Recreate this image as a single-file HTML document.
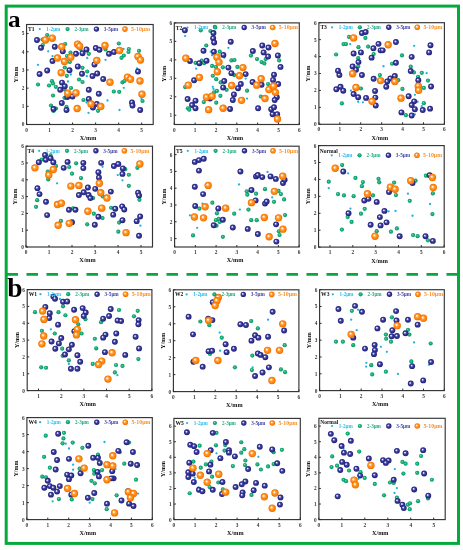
<!DOCTYPE html><html><head><meta charset="utf-8"><style>html,body{margin:0;padding:0;background:#fff;}svg{display:block;filter:blur(0.3px);}text{font-family:"Liberation Serif","DejaVu Serif",serif;}</style></head><body><svg width="463" height="550" viewBox="0 0 463 550"><defs><radialGradient id="gn" cx="0.5" cy="0.5" r="0.5" fx="0.37" fy="0.37"><stop offset="0" stop-color="#ffffff"/><stop offset="0.17" stop-color="#cdd5f0"/><stop offset="0.42" stop-color="#4848aa"/><stop offset="0.72" stop-color="#2e2e8e"/><stop offset="1" stop-color="#1f1f70"/></radialGradient><radialGradient id="go" cx="0.5" cy="0.5" r="0.5" fx="0.37" fy="0.36"><stop offset="0" stop-color="#ffffff"/><stop offset="0.18" stop-color="#ffe6cc"/><stop offset="0.42" stop-color="#ff9c34"/><stop offset="0.72" stop-color="#ff8608"/><stop offset="1" stop-color="#ec6a00"/></radialGradient><radialGradient id="gg" cx="0.5" cy="0.5" r="0.5" fx="0.40" fy="0.38"><stop offset="0" stop-color="#8ee0c0"/><stop offset="0.3" stop-color="#2cb888"/><stop offset="0.7" stop-color="#0aa870"/><stop offset="1" stop-color="#078f5e"/></radialGradient></defs><rect width="463" height="550" fill="#fff"/><rect x="6.2" y="6.1" width="452.3" height="537.3" fill="none" stroke="#05aa3c" stroke-width="3"/><line x1="6.5" y1="274.4" x2="458" y2="274.4" stroke="#05aa3c" stroke-width="2.6" stroke-dasharray="11.5 8.5"/><text x="8" y="27.3" font-size="23.5" font-weight="bold" fill="#000" textLength="12.6" lengthAdjust="spacingAndGlyphs">a</text><text x="7.2" y="296.6" font-size="27.5" font-weight="bold" fill="#000">b</text><clipPath id="cp0"><rect x="26.55" y="24.5" width="126.65" height="100"/></clipPath><g clip-path="url(#cp0)"><circle cx="48.2" cy="51.3" r="1.15" fill="#1db3df"/><circle cx="52.5" cy="56.2" r="1.15" fill="#1db3df"/><circle cx="38" cy="64.8" r="1.15" fill="#1db3df"/><circle cx="68" cy="81.5" r="1.15" fill="#1db3df"/><circle cx="87.2" cy="58" r="1.15" fill="#1db3df"/><circle cx="105.5" cy="59.8" r="1.15" fill="#1db3df"/><circle cx="70.8" cy="74.5" r="1.15" fill="#1db3df"/><circle cx="86.8" cy="76.2" r="1.15" fill="#1db3df"/><circle cx="107.5" cy="100.5" r="1.15" fill="#1db3df"/><circle cx="88.5" cy="112.8" r="1.15" fill="#1db3df"/><circle cx="86.5" cy="102.5" r="1.15" fill="#1db3df"/><circle cx="123.5" cy="49" r="1.15" fill="#1db3df"/><circle cx="137" cy="68.5" r="1.15" fill="#1db3df"/><circle cx="123.8" cy="87.8" r="1.15" fill="#1db3df"/><circle cx="119.5" cy="110" r="1.15" fill="#1db3df"/><circle cx="141.5" cy="98.8" r="1.15" fill="#1db3df"/><circle cx="47.2" cy="35" r="2.1" fill="url(#gg)"/><circle cx="42.5" cy="39.5" r="2.1" fill="url(#gg)"/><circle cx="42.8" cy="45" r="2.1" fill="url(#gg)"/><circle cx="65.2" cy="44" r="2.1" fill="url(#gg)"/><circle cx="67" cy="56" r="2.1" fill="url(#gg)"/><circle cx="64.8" cy="67.5" r="2.1" fill="url(#gg)"/><circle cx="66.8" cy="75.8" r="2.1" fill="url(#gg)"/><circle cx="52" cy="81.2" r="2.1" fill="url(#gg)"/><circle cx="38" cy="84.5" r="2.1" fill="url(#gg)"/><circle cx="49" cy="85.5" r="2.1" fill="url(#gg)"/><circle cx="53" cy="83.5" r="2.1" fill="url(#gg)"/><circle cx="55.8" cy="86.8" r="2.1" fill="url(#gg)"/><circle cx="53" cy="95.5" r="2.1" fill="url(#gg)"/><circle cx="64.5" cy="89.5" r="2.1" fill="url(#gg)"/><circle cx="64.5" cy="97.8" r="2.1" fill="url(#gg)"/><circle cx="51" cy="105.5" r="2.1" fill="url(#gg)"/><circle cx="56" cy="108.5" r="2.1" fill="url(#gg)"/><circle cx="53.5" cy="111" r="2.1" fill="url(#gg)"/><circle cx="66.5" cy="106.8" r="2.1" fill="url(#gg)"/><circle cx="80.5" cy="49" r="2.1" fill="url(#gg)"/><circle cx="88.8" cy="53.8" r="2.1" fill="url(#gg)"/><circle cx="70.5" cy="52.5" r="2.1" fill="url(#gg)"/><circle cx="69.8" cy="62" r="2.1" fill="url(#gg)"/><circle cx="82.5" cy="67.8" r="2.1" fill="url(#gg)"/><circle cx="87.2" cy="71.5" r="2.1" fill="url(#gg)"/><circle cx="105.5" cy="49.5" r="2.1" fill="url(#gg)"/><circle cx="79" cy="79.5" r="2.1" fill="url(#gg)"/><circle cx="82.5" cy="82" r="2.1" fill="url(#gg)"/><circle cx="71" cy="88" r="2.1" fill="url(#gg)"/><circle cx="83.5" cy="100" r="2.1" fill="url(#gg)"/><circle cx="98" cy="110.8" r="2.1" fill="url(#gg)"/><circle cx="118.8" cy="43.5" r="2.1" fill="url(#gg)"/><circle cx="128.8" cy="49" r="2.1" fill="url(#gg)"/><circle cx="128.5" cy="52" r="2.1" fill="url(#gg)"/><circle cx="139" cy="50.8" r="2.1" fill="url(#gg)"/><circle cx="123.8" cy="55.5" r="2.1" fill="url(#gg)"/><circle cx="121.5" cy="57.8" r="2.1" fill="url(#gg)"/><circle cx="122.5" cy="82.3" r="2.1" fill="url(#gg)"/><circle cx="124.5" cy="81" r="2.1" fill="url(#gg)"/><circle cx="113.8" cy="91.5" r="2.1" fill="url(#gg)"/><circle cx="119.2" cy="91.8" r="2.1" fill="url(#gg)"/><circle cx="142.5" cy="101" r="2.1" fill="url(#gg)"/><circle cx="37" cy="40" r="2.95" fill="url(#gn)"/><circle cx="41" cy="47.8" r="2.95" fill="url(#gn)"/><circle cx="54.8" cy="46.8" r="2.95" fill="url(#gn)"/><circle cx="62.8" cy="51.3" r="2.95" fill="url(#gn)"/><circle cx="52.5" cy="61" r="2.95" fill="url(#gn)"/><circle cx="47.2" cy="70.5" r="2.95" fill="url(#gn)"/><circle cx="39.6" cy="74" r="2.95" fill="url(#gn)"/><circle cx="62" cy="82.6" r="2.95" fill="url(#gn)"/><circle cx="69.5" cy="70.2" r="2.95" fill="url(#gn)"/><circle cx="64.8" cy="86.2" r="2.95" fill="url(#gn)"/><circle cx="60.2" cy="89.8" r="2.95" fill="url(#gn)"/><circle cx="67.3" cy="97" r="2.95" fill="url(#gn)"/><circle cx="72.5" cy="96.5" r="2.95" fill="url(#gn)"/><circle cx="61.8" cy="103" r="2.95" fill="url(#gn)"/><circle cx="53.5" cy="109" r="2.95" fill="url(#gn)"/><circle cx="66.5" cy="110" r="2.95" fill="url(#gn)"/><circle cx="86.5" cy="49.5" r="2.95" fill="url(#gn)"/><circle cx="82.5" cy="53.2" r="2.95" fill="url(#gn)"/><circle cx="76" cy="53.8" r="2.95" fill="url(#gn)"/><circle cx="95.8" cy="48" r="2.95" fill="url(#gn)"/><circle cx="99.5" cy="49.8" r="2.95" fill="url(#gn)"/><circle cx="109" cy="53.8" r="2.95" fill="url(#gn)"/><circle cx="114" cy="52" r="2.95" fill="url(#gn)"/><circle cx="94.5" cy="64.5" r="2.95" fill="url(#gn)"/><circle cx="77.8" cy="66.5" r="2.95" fill="url(#gn)"/><circle cx="82" cy="73.8" r="2.95" fill="url(#gn)"/><circle cx="92.5" cy="76" r="2.95" fill="url(#gn)"/><circle cx="97.2" cy="73.5" r="2.95" fill="url(#gn)"/><circle cx="103.2" cy="79" r="2.95" fill="url(#gn)"/><circle cx="88.8" cy="89.8" r="2.95" fill="url(#gn)"/><circle cx="98.8" cy="93.8" r="2.95" fill="url(#gn)"/><circle cx="88.8" cy="99" r="2.95" fill="url(#gn)"/><circle cx="93" cy="107.5" r="2.95" fill="url(#gn)"/><circle cx="96.8" cy="104" r="2.95" fill="url(#gn)"/><circle cx="138" cy="71.5" r="2.95" fill="url(#gn)"/><circle cx="132" cy="102.5" r="2.95" fill="url(#gn)"/><circle cx="132.5" cy="105.5" r="2.95" fill="url(#gn)"/><circle cx="140.2" cy="110" r="2.95" fill="url(#gn)"/><circle cx="45.5" cy="40" r="3.7" fill="url(#go)"/><circle cx="52.3" cy="38.2" r="3.7" fill="url(#go)"/><circle cx="61.8" cy="46.8" r="3.7" fill="url(#go)"/><circle cx="57.5" cy="58" r="3.7" fill="url(#go)"/><circle cx="64.5" cy="61.5" r="3.7" fill="url(#go)"/><circle cx="70.8" cy="57.3" r="3.7" fill="url(#go)"/><circle cx="61.2" cy="72.8" r="3.7" fill="url(#go)"/><circle cx="67.8" cy="93.3" r="3.7" fill="url(#go)"/><circle cx="76" cy="93" r="3.7" fill="url(#go)"/><circle cx="77.2" cy="108.5" r="3.7" fill="url(#go)"/><circle cx="91" cy="104" r="3.7" fill="url(#go)"/><circle cx="100.8" cy="106.5" r="3.7" fill="url(#go)"/><circle cx="77.6" cy="44.2" r="3.7" fill="url(#go)"/><circle cx="79.6" cy="46.2" r="3.7" fill="url(#go)"/><circle cx="105" cy="45.5" r="3.7" fill="url(#go)"/><circle cx="96.8" cy="60.5" r="3.7" fill="url(#go)"/><circle cx="110" cy="82.3" r="3.7" fill="url(#go)"/><circle cx="119.5" cy="50.5" r="3.7" fill="url(#go)"/><circle cx="138" cy="56.5" r="3.7" fill="url(#go)"/><circle cx="140.5" cy="60" r="3.7" fill="url(#go)"/><circle cx="127.5" cy="77.2" r="3.7" fill="url(#go)"/><circle cx="130.5" cy="79.2" r="3.7" fill="url(#go)"/><circle cx="140" cy="81" r="3.7" fill="url(#go)"/><circle cx="142" cy="94.2" r="3.7" fill="url(#go)"/></g><rect x="26.55" y="24.5" width="126.65" height="100" fill="none" stroke="#333" stroke-width="1.15"/><text x="26.55" y="131.6" font-size="5.3" font-weight="bold" text-anchor="middle" fill="#333">0</text><text x="49.58" y="131.6" font-size="5.3" font-weight="bold" text-anchor="middle" fill="#333">1</text><text x="72.6" y="131.6" font-size="5.3" font-weight="bold" text-anchor="middle" fill="#333">2</text><text x="95.63" y="131.6" font-size="5.3" font-weight="bold" text-anchor="middle" fill="#333">3</text><text x="118.66" y="131.6" font-size="5.3" font-weight="bold" text-anchor="middle" fill="#333">4</text><text x="141.69" y="131.6" font-size="5.3" font-weight="bold" text-anchor="middle" fill="#333">5</text><text x="24.35" y="126.4" font-size="5.3" font-weight="bold" text-anchor="end" fill="#333">0</text><text x="24.35" y="108.22" font-size="5.3" font-weight="bold" text-anchor="end" fill="#333">1</text><text x="24.35" y="90.04" font-size="5.3" font-weight="bold" text-anchor="end" fill="#333">2</text><text x="24.35" y="71.85" font-size="5.3" font-weight="bold" text-anchor="end" fill="#333">3</text><text x="24.35" y="53.67" font-size="5.3" font-weight="bold" text-anchor="end" fill="#333">4</text><text x="24.35" y="35.49" font-size="5.3" font-weight="bold" text-anchor="end" fill="#333">5</text><path d="M26.55 124.5v-2 M49.58 124.5v-2 M72.6 124.5v-2 M95.63 124.5v-2 M118.66 124.5v-2 M141.69 124.5v-2 M26.55 124.5h2 M26.55 106.32h2 M26.55 88.14h2 M26.55 69.95h2 M26.55 51.77h2 M26.55 33.59h2" stroke="#2a2a2a" stroke-width="1" fill="none"/><text x="88.08" y="139.9" font-size="7" font-weight="bold" text-anchor="middle" fill="#111" textLength="16.5" lengthAdjust="spacingAndGlyphs">X/mm</text><text transform="translate(17.95 74.5) rotate(-90)" font-size="7" font-weight="bold" text-anchor="middle" fill="#111" textLength="16" lengthAdjust="spacingAndGlyphs">Y/mm</text><text x="28.05" y="31.1" font-size="5.6" font-weight="bold" fill="#111">T1</text><circle cx="39.75" cy="29.1" r="1.1" fill="#1db3df"/><text x="46.35" y="30.9" font-size="5.2" font-weight="bold" fill="#2cbbea" textLength="14" lengthAdjust="spacingAndGlyphs">1-2μm</text><circle cx="67.55" cy="29.1" r="2.1" fill="url(#gg)"/><text x="74.55" y="30.9" font-size="5.2" font-weight="bold" fill="#20aa80" textLength="14" lengthAdjust="spacingAndGlyphs">2-3μm</text><circle cx="96.45" cy="29.1" r="2.7" fill="url(#gn)"/><text x="103.85" y="30.9" font-size="5.2" font-weight="bold" fill="#4444a2" textLength="14.2" lengthAdjust="spacingAndGlyphs">3-5μm</text><circle cx="124.95" cy="29.1" r="2.8" fill="url(#go)"/><text x="131.05" y="30.9" font-size="5.2" font-weight="bold" fill="#f8902a" textLength="19" lengthAdjust="spacingAndGlyphs">5-10μm</text><clipPath id="cp1"><rect x="174.3" y="22.9" width="125" height="101.6"/></clipPath><g clip-path="url(#cp1)"><circle cx="185.13" cy="36.1" r="1.15" fill="#1db3df"/><circle cx="228.4" cy="47.85" r="1.15" fill="#1db3df"/><circle cx="210.7" cy="51.72" r="1.15" fill="#1db3df"/><circle cx="212.09" cy="55.17" r="1.15" fill="#1db3df"/><circle cx="224.25" cy="57.66" r="1.15" fill="#1db3df"/><circle cx="196.19" cy="68.72" r="1.15" fill="#1db3df"/><circle cx="212.78" cy="86.82" r="1.15" fill="#1db3df"/><circle cx="213.47" cy="88.9" r="1.15" fill="#1db3df"/><circle cx="245.68" cy="78.53" r="1.15" fill="#1db3df"/><circle cx="247.06" cy="98.57" r="1.15" fill="#1db3df"/><circle cx="200.75" cy="30.29" r="2.1" fill="url(#gg)"/><circle cx="214.85" cy="26.84" r="2.1" fill="url(#gg)"/><circle cx="210.43" cy="30.98" r="2.1" fill="url(#gg)"/><circle cx="206.28" cy="45.5" r="2.1" fill="url(#gg)"/><circle cx="219.69" cy="51.72" r="2.1" fill="url(#gg)"/><circle cx="195.5" cy="62.78" r="2.1" fill="url(#gg)"/><circle cx="201.72" cy="60.7" r="2.1" fill="url(#gg)"/><circle cx="204.07" cy="63.19" r="2.1" fill="url(#gg)"/><circle cx="212.09" cy="65.96" r="2.1" fill="url(#gg)"/><circle cx="215.96" cy="66.92" r="2.1" fill="url(#gg)"/><circle cx="222.87" cy="67.34" r="2.1" fill="url(#gg)"/><circle cx="231.44" cy="60.43" r="2.1" fill="url(#gg)"/><circle cx="234.48" cy="60.01" r="2.1" fill="url(#gg)"/><circle cx="212.78" cy="75.76" r="2.1" fill="url(#gg)"/><circle cx="216.23" cy="79.22" r="2.1" fill="url(#gg)"/><circle cx="220.66" cy="82.4" r="2.1" fill="url(#gg)"/><circle cx="226.6" cy="89.86" r="2.1" fill="url(#gg)"/><circle cx="216.92" cy="90.97" r="2.1" fill="url(#gg)"/><circle cx="214.16" cy="92.35" r="2.1" fill="url(#gg)"/><circle cx="220.38" cy="95.81" r="2.1" fill="url(#gg)"/><circle cx="185.13" cy="87.1" r="2.1" fill="url(#gg)"/><circle cx="203.79" cy="102.03" r="2.1" fill="url(#gg)"/><circle cx="216.23" cy="102.72" r="2.1" fill="url(#gg)"/><circle cx="187.9" cy="108.25" r="2.1" fill="url(#gg)"/><circle cx="189.28" cy="109.63" r="2.1" fill="url(#gg)"/><circle cx="234.2" cy="75.07" r="2.1" fill="url(#gg)"/><circle cx="250.93" cy="55.59" r="2.1" fill="url(#gg)"/><circle cx="257.01" cy="59.05" r="2.1" fill="url(#gg)"/><circle cx="261.57" cy="62.09" r="2.1" fill="url(#gg)"/><circle cx="264.34" cy="63.47" r="2.1" fill="url(#gg)"/><circle cx="265.72" cy="59.05" r="2.1" fill="url(#gg)"/><circle cx="279.13" cy="60.43" r="2.1" fill="url(#gg)"/><circle cx="237.38" cy="66.92" r="2.1" fill="url(#gg)"/><circle cx="268.07" cy="84.06" r="2.1" fill="url(#gg)"/><circle cx="247.06" cy="90.69" r="2.1" fill="url(#gg)"/><circle cx="260.88" cy="96.5" r="2.1" fill="url(#gg)"/><circle cx="184.86" cy="30.29" r="2.95" fill="url(#gn)"/><circle cx="213.47" cy="33.06" r="2.95" fill="url(#gn)"/><circle cx="213.19" cy="38.31" r="2.95" fill="url(#gn)"/><circle cx="214.16" cy="42.46" r="2.95" fill="url(#gn)"/><circle cx="230.75" cy="41.77" r="2.95" fill="url(#gn)"/><circle cx="203.52" cy="50.75" r="2.95" fill="url(#gn)"/><circle cx="213.88" cy="51.72" r="2.95" fill="url(#gn)"/><circle cx="223.42" cy="54.9" r="2.95" fill="url(#gn)"/><circle cx="189.97" cy="60.98" r="2.95" fill="url(#gn)"/><circle cx="199.37" cy="63.19" r="2.95" fill="url(#gn)"/><circle cx="206.56" cy="60.7" r="2.95" fill="url(#gn)"/><circle cx="228.4" cy="67.62" r="2.95" fill="url(#gn)"/><circle cx="231.44" cy="73.14" r="2.95" fill="url(#gn)"/><circle cx="194.12" cy="80.19" r="2.95" fill="url(#gn)"/><circle cx="224.25" cy="81.02" r="2.95" fill="url(#gn)"/><circle cx="223.14" cy="87.51" r="2.95" fill="url(#gn)"/><circle cx="233.93" cy="94.43" r="2.95" fill="url(#gn)"/><circle cx="232.82" cy="99.95" r="2.95" fill="url(#gn)"/><circle cx="187.62" cy="98.99" r="2.95" fill="url(#gn)"/><circle cx="195.5" cy="100.65" r="2.95" fill="url(#gn)"/><circle cx="192.04" cy="105.07" r="2.95" fill="url(#gn)"/><circle cx="195.5" cy="108.25" r="2.95" fill="url(#gn)"/><circle cx="230.06" cy="108.94" r="2.95" fill="url(#gn)"/><circle cx="210.01" cy="98.57" r="2.95" fill="url(#gn)"/><circle cx="262.26" cy="45.5" r="2.95" fill="url(#gn)"/><circle cx="268.48" cy="47.57" r="2.95" fill="url(#gn)"/><circle cx="252.86" cy="51.03" r="2.95" fill="url(#gn)"/><circle cx="263.65" cy="52.41" r="2.95" fill="url(#gn)"/><circle cx="268.07" cy="56.56" r="2.95" fill="url(#gn)"/><circle cx="277.88" cy="55.45" r="2.95" fill="url(#gn)"/><circle cx="280.51" cy="66.92" r="2.95" fill="url(#gn)"/><circle cx="245.68" cy="74.11" r="2.95" fill="url(#gn)"/><circle cx="274.01" cy="74.66" r="2.95" fill="url(#gn)"/><circle cx="273.05" cy="79.91" r="2.95" fill="url(#gn)"/><circle cx="278.16" cy="84.06" r="2.95" fill="url(#gn)"/><circle cx="252.59" cy="81.98" r="2.95" fill="url(#gn)"/><circle cx="261.57" cy="84.75" r="2.95" fill="url(#gn)"/><circle cx="240.84" cy="84.06" r="2.95" fill="url(#gn)"/><circle cx="238.07" cy="88.21" r="2.95" fill="url(#gn)"/><circle cx="276.78" cy="97.19" r="2.95" fill="url(#gn)"/><circle cx="274.7" cy="99.95" r="2.95" fill="url(#gn)"/><circle cx="258.12" cy="108.25" r="2.95" fill="url(#gn)"/><circle cx="271.25" cy="109.22" r="2.95" fill="url(#gn)"/><circle cx="274.01" cy="107.28" r="2.95" fill="url(#gn)"/><circle cx="272.63" cy="114.19" r="2.95" fill="url(#gn)"/><circle cx="277.19" cy="114.19" r="2.95" fill="url(#gn)"/><circle cx="185.82" cy="58.22" r="3.7" fill="url(#go)"/><circle cx="216.92" cy="57.25" r="3.7" fill="url(#go)"/><circle cx="219" cy="62.09" r="3.7" fill="url(#go)"/><circle cx="217.34" cy="71.76" r="3.7" fill="url(#go)"/><circle cx="199.37" cy="77.42" r="3.7" fill="url(#go)"/><circle cx="188.31" cy="85.16" r="3.7" fill="url(#go)"/><circle cx="231.71" cy="85.44" r="3.7" fill="url(#go)"/><circle cx="206.56" cy="97.19" r="3.7" fill="url(#go)"/><circle cx="212.09" cy="96.22" r="3.7" fill="url(#go)"/><circle cx="208.63" cy="109.63" r="3.7" fill="url(#go)"/><circle cx="223.14" cy="108.25" r="3.7" fill="url(#go)"/><circle cx="274.98" cy="43.43" r="3.7" fill="url(#go)"/><circle cx="242.91" cy="67.62" r="3.7" fill="url(#go)"/><circle cx="239.46" cy="75.76" r="3.7" fill="url(#go)"/><circle cx="261.16" cy="78.81" r="3.7" fill="url(#go)"/><circle cx="256.73" cy="85.16" r="3.7" fill="url(#go)"/><circle cx="268.9" cy="89.59" r="3.7" fill="url(#go)"/><circle cx="273.6" cy="86.13" r="3.7" fill="url(#go)"/><circle cx="275.4" cy="92.35" r="3.7" fill="url(#go)"/><circle cx="265.03" cy="98.57" r="3.7" fill="url(#go)"/><circle cx="241.53" cy="100.37" r="3.7" fill="url(#go)"/><circle cx="277.47" cy="119.03" r="3.7" fill="url(#go)"/></g><rect x="174.3" y="22.9" width="125" height="101.6" fill="none" stroke="#333" stroke-width="1.15"/><text x="174.3" y="131.6" font-size="5.3" font-weight="bold" text-anchor="middle" fill="#333">0</text><text x="195.13" y="131.6" font-size="5.3" font-weight="bold" text-anchor="middle" fill="#333">1</text><text x="215.97" y="131.6" font-size="5.3" font-weight="bold" text-anchor="middle" fill="#333">2</text><text x="236.8" y="131.6" font-size="5.3" font-weight="bold" text-anchor="middle" fill="#333">3</text><text x="257.63" y="131.6" font-size="5.3" font-weight="bold" text-anchor="middle" fill="#333">4</text><text x="278.47" y="131.6" font-size="5.3" font-weight="bold" text-anchor="middle" fill="#333">5</text><text x="299.3" y="131.6" font-size="5.3" font-weight="bold" text-anchor="middle" fill="#333">6</text><text x="172.1" y="117.16" font-size="5.3" font-weight="bold" text-anchor="end" fill="#333">1</text><text x="172.1" y="98.69" font-size="5.3" font-weight="bold" text-anchor="end" fill="#333">2</text><text x="172.1" y="80.22" font-size="5.3" font-weight="bold" text-anchor="end" fill="#333">3</text><text x="172.1" y="61.75" font-size="5.3" font-weight="bold" text-anchor="end" fill="#333">4</text><text x="172.1" y="43.27" font-size="5.3" font-weight="bold" text-anchor="end" fill="#333">5</text><text x="172.1" y="24.8" font-size="5.3" font-weight="bold" text-anchor="end" fill="#333">6</text><path d="M174.3 124.5v-2 M195.13 124.5v-2 M215.97 124.5v-2 M236.8 124.5v-2 M257.63 124.5v-2 M278.47 124.5v-2 M299.3 124.5v-2 M174.3 115.26h2 M174.3 96.79h2 M174.3 78.32h2 M174.3 59.85h2 M174.3 41.37h2 M174.3 22.9h2" stroke="#2a2a2a" stroke-width="1" fill="none"/><text x="235" y="139.9" font-size="7" font-weight="bold" text-anchor="middle" fill="#111" textLength="16.5" lengthAdjust="spacingAndGlyphs">X/mm</text><text transform="translate(165.7 73.7) rotate(-90)" font-size="7" font-weight="bold" text-anchor="middle" fill="#111" textLength="16" lengthAdjust="spacingAndGlyphs">Y/mm</text><text x="175.8" y="29.5" font-size="5.6" font-weight="bold" fill="#111">T2</text><circle cx="187.5" cy="27.5" r="1.1" fill="#1db3df"/><text x="194.1" y="29.3" font-size="5.2" font-weight="bold" fill="#2cbbea" textLength="14" lengthAdjust="spacingAndGlyphs">1-2μm</text><circle cx="215.3" cy="27.5" r="2.1" fill="url(#gg)"/><text x="222.3" y="29.3" font-size="5.2" font-weight="bold" fill="#20aa80" textLength="14" lengthAdjust="spacingAndGlyphs">2-3μm</text><circle cx="244.2" cy="27.5" r="2.7" fill="url(#gn)"/><text x="251.6" y="29.3" font-size="5.2" font-weight="bold" fill="#4444a2" textLength="14.2" lengthAdjust="spacingAndGlyphs">3-5μm</text><circle cx="272.7" cy="27.5" r="2.8" fill="url(#go)"/><text x="278.8" y="29.3" font-size="5.2" font-weight="bold" fill="#f8902a" textLength="19" lengthAdjust="spacingAndGlyphs">5-10μm</text><clipPath id="cp2"><rect x="318.9" y="22.7" width="125.5" height="101.6"/></clipPath><g clip-path="url(#cp2)"><circle cx="350.17" cy="44.12" r="1.15" fill="#1db3df"/><circle cx="350.87" cy="90.69" r="1.15" fill="#1db3df"/><circle cx="358.19" cy="101.75" r="1.15" fill="#1db3df"/><circle cx="362.89" cy="102.3" r="1.15" fill="#1db3df"/><circle cx="414.17" cy="45.78" r="1.15" fill="#1db3df"/><circle cx="383.49" cy="66.23" r="1.15" fill="#1db3df"/><circle cx="426.62" cy="73.14" r="1.15" fill="#1db3df"/><circle cx="414.87" cy="94.84" r="1.15" fill="#1db3df"/><circle cx="417.63" cy="101.75" r="1.15" fill="#1db3df"/><circle cx="421.78" cy="106.17" r="1.15" fill="#1db3df"/><circle cx="414.87" cy="114.47" r="1.15" fill="#1db3df"/><circle cx="349.07" cy="36.93" r="2.1" fill="url(#gg)"/><circle cx="365.38" cy="37.9" r="2.1" fill="url(#gg)"/><circle cx="343.54" cy="44.12" r="2.1" fill="url(#gg)"/><circle cx="346.03" cy="44.12" r="2.1" fill="url(#gg)"/><circle cx="358.47" cy="47.16" r="2.1" fill="url(#gg)"/><circle cx="368.14" cy="46.6" r="2.1" fill="url(#gg)"/><circle cx="336.08" cy="54.48" r="2.1" fill="url(#gg)"/><circle cx="373.67" cy="54.07" r="2.1" fill="url(#gg)"/><circle cx="358.19" cy="58.22" r="2.1" fill="url(#gg)"/><circle cx="358.19" cy="66.51" r="2.1" fill="url(#gg)"/><circle cx="360.96" cy="88.48" r="2.1" fill="url(#gg)"/><circle cx="341.88" cy="103.41" r="2.1" fill="url(#gg)"/><circle cx="379.89" cy="75.07" r="2.1" fill="url(#gg)"/><circle cx="402.01" cy="55.45" r="2.1" fill="url(#gg)"/><circle cx="392.06" cy="63.75" r="2.1" fill="url(#gg)"/><circle cx="410.72" cy="66.51" r="2.1" fill="url(#gg)"/><circle cx="413.9" cy="72.45" r="2.1" fill="url(#gg)"/><circle cx="421.78" cy="72.87" r="2.1" fill="url(#gg)"/><circle cx="418.05" cy="76.87" r="2.1" fill="url(#gg)"/><circle cx="428" cy="80.6" r="2.1" fill="url(#gg)"/><circle cx="423.85" cy="87.93" r="2.1" fill="url(#gg)"/><circle cx="402.43" cy="88.9" r="2.1" fill="url(#gg)"/><circle cx="423.85" cy="103.13" r="2.1" fill="url(#gg)"/><circle cx="405.88" cy="115.16" r="2.1" fill="url(#gg)"/><circle cx="398.28" cy="80.19" r="2.1" fill="url(#gg)"/><circle cx="361.92" cy="33.06" r="2.95" fill="url(#gn)"/><circle cx="365.66" cy="31.95" r="2.95" fill="url(#gn)"/><circle cx="378.51" cy="43.84" r="2.95" fill="url(#gn)"/><circle cx="373.4" cy="48.26" r="2.95" fill="url(#gn)"/><circle cx="353.63" cy="53.52" r="2.95" fill="url(#gn)"/><circle cx="360.96" cy="52.41" r="2.95" fill="url(#gn)"/><circle cx="371.6" cy="57.66" r="2.95" fill="url(#gn)"/><circle cx="358.47" cy="62.09" r="2.95" fill="url(#gn)"/><circle cx="352.66" cy="66.51" r="2.95" fill="url(#gn)"/><circle cx="355.98" cy="69.69" r="2.95" fill="url(#gn)"/><circle cx="380.59" cy="50.34" r="2.95" fill="url(#gn)"/><circle cx="339.39" cy="75.07" r="2.95" fill="url(#gn)"/><circle cx="361.92" cy="75.07" r="2.95" fill="url(#gn)"/><circle cx="373.67" cy="78.81" r="2.95" fill="url(#gn)"/><circle cx="336.35" cy="89.31" r="2.95" fill="url(#gn)"/><circle cx="340.5" cy="86.82" r="2.95" fill="url(#gn)"/><circle cx="343.26" cy="90.69" r="2.95" fill="url(#gn)"/><circle cx="353.63" cy="94.01" r="2.95" fill="url(#gn)"/><circle cx="358.19" cy="97.19" r="2.95" fill="url(#gn)"/><circle cx="366.07" cy="97.88" r="2.95" fill="url(#gn)"/><circle cx="375.06" cy="90.97" r="2.95" fill="url(#gn)"/><circle cx="375.33" cy="97.6" r="2.95" fill="url(#gn)"/><circle cx="375.75" cy="105.48" r="2.95" fill="url(#gn)"/><circle cx="395.93" cy="42.04" r="2.95" fill="url(#gn)"/><circle cx="382.66" cy="50.34" r="2.95" fill="url(#gn)"/><circle cx="430.49" cy="45.22" r="2.95" fill="url(#gn)"/><circle cx="429.1" cy="52.41" r="2.95" fill="url(#gn)"/><circle cx="411.69" cy="56.83" r="2.95" fill="url(#gn)"/><circle cx="395.93" cy="62.78" r="2.95" fill="url(#gn)"/><circle cx="410.72" cy="71.07" r="2.95" fill="url(#gn)"/><circle cx="394.82" cy="76.04" r="2.95" fill="url(#gn)"/><circle cx="390.4" cy="78.53" r="2.95" fill="url(#gn)"/><circle cx="387.22" cy="81.57" r="2.95" fill="url(#gn)"/><circle cx="386.25" cy="86.82" r="2.95" fill="url(#gn)"/><circle cx="418.32" cy="80.19" r="2.95" fill="url(#gn)"/><circle cx="431.04" cy="86.55" r="2.95" fill="url(#gn)"/><circle cx="408.65" cy="96.22" r="2.95" fill="url(#gn)"/><circle cx="414.17" cy="101.34" r="2.95" fill="url(#gn)"/><circle cx="411.69" cy="105.07" r="2.95" fill="url(#gn)"/><circle cx="414.87" cy="109.22" r="2.95" fill="url(#gn)"/><circle cx="422.75" cy="110.05" r="2.95" fill="url(#gn)"/><circle cx="430.07" cy="108.66" r="2.95" fill="url(#gn)"/><circle cx="401.46" cy="112.4" r="2.95" fill="url(#gn)"/><circle cx="411.69" cy="115.57" r="2.95" fill="url(#gn)"/><circle cx="338.01" cy="70.66" r="2.95" fill="url(#gn)"/><circle cx="353.63" cy="37.9" r="3.7" fill="url(#go)"/><circle cx="352.66" cy="73.69" r="3.7" fill="url(#go)"/><circle cx="355.98" cy="87.51" r="3.7" fill="url(#go)"/><circle cx="372.02" cy="101.34" r="3.7" fill="url(#go)"/><circle cx="380.59" cy="80.6" r="3.7" fill="url(#go)"/><circle cx="388.19" cy="44.81" r="3.7" fill="url(#go)"/><circle cx="394.82" cy="81.57" r="3.7" fill="url(#go)"/><circle cx="418.32" cy="86.13" r="3.7" fill="url(#go)"/><circle cx="418.6" cy="90.28" r="3.7" fill="url(#go)"/><circle cx="401.04" cy="98.16" r="3.7" fill="url(#go)"/></g><rect x="318.9" y="22.7" width="125.5" height="101.6" fill="none" stroke="#333" stroke-width="1.15"/><text x="318.9" y="131.4" font-size="5.3" font-weight="bold" text-anchor="middle" fill="#333">0</text><text x="339.82" y="131.4" font-size="5.3" font-weight="bold" text-anchor="middle" fill="#333">1</text><text x="360.73" y="131.4" font-size="5.3" font-weight="bold" text-anchor="middle" fill="#333">2</text><text x="381.65" y="131.4" font-size="5.3" font-weight="bold" text-anchor="middle" fill="#333">3</text><text x="402.57" y="131.4" font-size="5.3" font-weight="bold" text-anchor="middle" fill="#333">4</text><text x="423.48" y="131.4" font-size="5.3" font-weight="bold" text-anchor="middle" fill="#333">5</text><text x="444.4" y="131.4" font-size="5.3" font-weight="bold" text-anchor="middle" fill="#333">6</text><text x="316.7" y="126.2" font-size="5.3" font-weight="bold" text-anchor="end" fill="#333">0</text><text x="316.7" y="109.27" font-size="5.3" font-weight="bold" text-anchor="end" fill="#333">1</text><text x="316.7" y="92.33" font-size="5.3" font-weight="bold" text-anchor="end" fill="#333">2</text><text x="316.7" y="75.4" font-size="5.3" font-weight="bold" text-anchor="end" fill="#333">3</text><text x="316.7" y="58.47" font-size="5.3" font-weight="bold" text-anchor="end" fill="#333">4</text><text x="316.7" y="41.53" font-size="5.3" font-weight="bold" text-anchor="end" fill="#333">5</text><text x="316.7" y="24.6" font-size="5.3" font-weight="bold" text-anchor="end" fill="#333">6</text><path d="M318.9 124.3v-2 M339.82 124.3v-2 M360.73 124.3v-2 M381.65 124.3v-2 M402.57 124.3v-2 M423.48 124.3v-2 M444.4 124.3v-2 M318.9 124.3h2 M318.9 107.37h2 M318.9 90.43h2 M318.9 73.5h2 M318.9 56.57h2 M318.9 39.63h2 M318.9 22.7h2" stroke="#2a2a2a" stroke-width="1" fill="none"/><text x="379.85" y="139.7" font-size="7" font-weight="bold" text-anchor="middle" fill="#111" textLength="16.5" lengthAdjust="spacingAndGlyphs">X/mm</text><text transform="translate(310.3 73.5) rotate(-90)" font-size="7" font-weight="bold" text-anchor="middle" fill="#111" textLength="16" lengthAdjust="spacingAndGlyphs">Y/mm</text><text x="320.4" y="29.3" font-size="5.6" font-weight="bold" fill="#111">T3</text><circle cx="332.1" cy="27.3" r="1.1" fill="#1db3df"/><text x="338.7" y="29.1" font-size="5.2" font-weight="bold" fill="#2cbbea" textLength="14" lengthAdjust="spacingAndGlyphs">1-2μm</text><circle cx="359.9" cy="27.3" r="2.1" fill="url(#gg)"/><text x="366.9" y="29.1" font-size="5.2" font-weight="bold" fill="#20aa80" textLength="14" lengthAdjust="spacingAndGlyphs">2-3μm</text><circle cx="388.8" cy="27.3" r="2.7" fill="url(#gn)"/><text x="396.2" y="29.1" font-size="5.2" font-weight="bold" fill="#4444a2" textLength="14.2" lengthAdjust="spacingAndGlyphs">3-5μm</text><circle cx="417.3" cy="27.3" r="2.8" fill="url(#go)"/><text x="423.4" y="29.1" font-size="5.2" font-weight="bold" fill="#f8902a" textLength="19" lengthAdjust="spacingAndGlyphs">5-10μm</text><clipPath id="cp3"><rect x="26" y="146.2" width="126.5" height="100.8"/></clipPath><g clip-path="url(#cp3)"><circle cx="57.07" cy="183.32" r="1.15" fill="#1db3df"/><circle cx="102.55" cy="166.73" r="1.15" fill="#1db3df"/><circle cx="117.75" cy="175.03" r="1.15" fill="#1db3df"/><circle cx="122.45" cy="180.28" r="1.15" fill="#1db3df"/><circle cx="140.42" cy="225.72" r="1.15" fill="#1db3df"/><circle cx="50.57" cy="155.4" r="2.1" fill="url(#gg)"/><circle cx="41.59" cy="159.55" r="2.1" fill="url(#gg)"/><circle cx="56.1" cy="166.04" r="2.1" fill="url(#gg)"/><circle cx="69.23" cy="167.01" r="2.1" fill="url(#gg)"/><circle cx="76.14" cy="163.28" r="2.1" fill="url(#gg)"/><circle cx="72" cy="173.65" r="2.1" fill="url(#gg)"/><circle cx="80.98" cy="178.07" r="2.1" fill="url(#gg)"/><circle cx="48.22" cy="179.45" r="2.1" fill="url(#gg)"/><circle cx="47.81" cy="171.57" r="2.1" fill="url(#gg)"/><circle cx="37.16" cy="200.15" r="2.1" fill="url(#gg)"/><circle cx="36.06" cy="206.78" r="2.1" fill="url(#gg)"/><circle cx="60.94" cy="220.88" r="2.1" fill="url(#gg)"/><circle cx="73.1" cy="208.44" r="2.1" fill="url(#gg)"/><circle cx="87.2" cy="224.34" r="2.1" fill="url(#gg)"/><circle cx="125.22" cy="169.22" r="2.1" fill="url(#gg)"/><circle cx="128.81" cy="174.75" r="2.1" fill="url(#gg)"/><circle cx="128.81" cy="185.81" r="2.1" fill="url(#gg)"/><circle cx="137.38" cy="167.84" r="2.1" fill="url(#gg)"/><circle cx="102.82" cy="196.45" r="2.1" fill="url(#gg)"/><circle cx="93.15" cy="198.07" r="2.1" fill="url(#gg)"/><circle cx="139.45" cy="199.87" r="2.1" fill="url(#gg)"/><circle cx="111.12" cy="207.75" r="2.1" fill="url(#gg)"/><circle cx="93.84" cy="213.69" r="2.1" fill="url(#gg)"/><circle cx="102.55" cy="218.12" r="2.1" fill="url(#gg)"/><circle cx="119.13" cy="222.54" r="2.1" fill="url(#gg)"/><circle cx="118.3" cy="231.66" r="2.1" fill="url(#gg)"/><circle cx="45.04" cy="154.98" r="2.95" fill="url(#gn)"/><circle cx="50.57" cy="158.16" r="2.95" fill="url(#gn)"/><circle cx="45.73" cy="159.82" r="2.95" fill="url(#gn)"/><circle cx="38.82" cy="162.31" r="2.95" fill="url(#gn)"/><circle cx="53.34" cy="162.31" r="2.95" fill="url(#gn)"/><circle cx="67.57" cy="161.9" r="2.95" fill="url(#gn)"/><circle cx="63.7" cy="167.84" r="2.95" fill="url(#gn)"/><circle cx="83.33" cy="162.86" r="2.95" fill="url(#gn)"/><circle cx="83.33" cy="168.12" r="2.95" fill="url(#gn)"/><circle cx="37.44" cy="188.16" r="2.95" fill="url(#gn)"/><circle cx="39.51" cy="194.1" r="2.95" fill="url(#gn)"/><circle cx="78.91" cy="195.07" r="2.95" fill="url(#gn)"/><circle cx="83.75" cy="192.31" r="2.95" fill="url(#gn)"/><circle cx="87.89" cy="187.47" r="2.95" fill="url(#gn)"/><circle cx="88.59" cy="195.07" r="2.95" fill="url(#gn)"/><circle cx="46.01" cy="201.81" r="2.95" fill="url(#gn)"/><circle cx="47.12" cy="215.08" r="2.95" fill="url(#gn)"/><circle cx="68.96" cy="209.82" r="2.95" fill="url(#gn)"/><circle cx="75.45" cy="209.82" r="2.95" fill="url(#gn)"/><circle cx="72" cy="222.26" r="2.95" fill="url(#gn)"/><circle cx="101.16" cy="162.86" r="2.95" fill="url(#gn)"/><circle cx="113.88" cy="166.04" r="2.95" fill="url(#gn)"/><circle cx="118.3" cy="163.97" r="2.95" fill="url(#gn)"/><circle cx="122.87" cy="168.39" r="2.95" fill="url(#gn)"/><circle cx="122.45" cy="173.92" r="2.95" fill="url(#gn)"/><circle cx="98.4" cy="172.26" r="2.95" fill="url(#gn)"/><circle cx="98.95" cy="177.52" r="2.95" fill="url(#gn)"/><circle cx="95.22" cy="188.85" r="2.95" fill="url(#gn)"/><circle cx="110.84" cy="191.62" r="2.95" fill="url(#gn)"/><circle cx="138.07" cy="192.72" r="2.95" fill="url(#gn)"/><circle cx="139.04" cy="195.49" r="2.95" fill="url(#gn)"/><circle cx="90.38" cy="198.07" r="2.95" fill="url(#gn)"/><circle cx="115.26" cy="208.72" r="2.95" fill="url(#gn)"/><circle cx="122.17" cy="206.37" r="2.95" fill="url(#gn)"/><circle cx="124.25" cy="209.55" r="2.95" fill="url(#gn)"/><circle cx="113.19" cy="214.66" r="2.95" fill="url(#gn)"/><circle cx="98.4" cy="216.73" r="2.95" fill="url(#gn)"/><circle cx="94.81" cy="224.75" r="2.95" fill="url(#gn)"/><circle cx="122.45" cy="220.19" r="2.95" fill="url(#gn)"/><circle cx="140.14" cy="216.46" r="2.95" fill="url(#gn)"/><circle cx="136.69" cy="221.16" r="2.95" fill="url(#gn)"/><circle cx="139.04" cy="235.81" r="2.95" fill="url(#gn)"/><circle cx="34.95" cy="167.84" r="3.7" fill="url(#go)"/><circle cx="53.34" cy="169.5" r="3.7" fill="url(#go)"/><circle cx="48.78" cy="175.03" r="3.7" fill="url(#go)"/><circle cx="70.89" cy="186.09" r="3.7" fill="url(#go)"/><circle cx="78.91" cy="185.4" r="3.7" fill="url(#go)"/><circle cx="57.48" cy="204.57" r="3.7" fill="url(#go)"/><circle cx="61.35" cy="203.19" r="3.7" fill="url(#go)"/><circle cx="58.17" cy="225.3" r="3.7" fill="url(#go)"/><circle cx="69.23" cy="223.37" r="3.7" fill="url(#go)"/><circle cx="87.89" cy="211.21" r="3.7" fill="url(#go)"/><circle cx="139.87" cy="163.97" r="3.7" fill="url(#go)"/><circle cx="99.37" cy="183.32" r="3.7" fill="url(#go)"/><circle cx="100.75" cy="192.72" r="3.7" fill="url(#go)"/><circle cx="106.97" cy="198.07" r="3.7" fill="url(#go)"/><circle cx="101.72" cy="208.16" r="3.7" fill="url(#go)"/><circle cx="126.05" cy="232.63" r="3.7" fill="url(#go)"/></g><rect x="26" y="146.2" width="126.5" height="100.8" fill="none" stroke="#333" stroke-width="1.15"/><text x="26" y="254.1" font-size="5.3" font-weight="bold" text-anchor="middle" fill="#333">0</text><text x="49" y="254.1" font-size="5.3" font-weight="bold" text-anchor="middle" fill="#333">1</text><text x="72" y="254.1" font-size="5.3" font-weight="bold" text-anchor="middle" fill="#333">2</text><text x="95" y="254.1" font-size="5.3" font-weight="bold" text-anchor="middle" fill="#333">3</text><text x="118" y="254.1" font-size="5.3" font-weight="bold" text-anchor="middle" fill="#333">4</text><text x="141" y="254.1" font-size="5.3" font-weight="bold" text-anchor="middle" fill="#333">5</text><text x="23.8" y="248.9" font-size="5.3" font-weight="bold" text-anchor="end" fill="#333">0</text><text x="23.8" y="232.1" font-size="5.3" font-weight="bold" text-anchor="end" fill="#333">1</text><text x="23.8" y="215.3" font-size="5.3" font-weight="bold" text-anchor="end" fill="#333">2</text><text x="23.8" y="198.5" font-size="5.3" font-weight="bold" text-anchor="end" fill="#333">3</text><text x="23.8" y="181.7" font-size="5.3" font-weight="bold" text-anchor="end" fill="#333">4</text><text x="23.8" y="164.9" font-size="5.3" font-weight="bold" text-anchor="end" fill="#333">5</text><text x="23.8" y="148.1" font-size="5.3" font-weight="bold" text-anchor="end" fill="#333">6</text><path d="M26 247v-2 M49 247v-2 M72 247v-2 M95 247v-2 M118 247v-2 M141 247v-2 M26 247h2 M26 230.2h2 M26 213.4h2 M26 196.6h2 M26 179.8h2 M26 163h2 M26 146.2h2" stroke="#2a2a2a" stroke-width="1" fill="none"/><text x="87.45" y="262.4" font-size="7" font-weight="bold" text-anchor="middle" fill="#111" textLength="16.5" lengthAdjust="spacingAndGlyphs">X/mm</text><text transform="translate(17.4 196.6) rotate(-90)" font-size="7" font-weight="bold" text-anchor="middle" fill="#111" textLength="16" lengthAdjust="spacingAndGlyphs">Y/mm</text><text x="27.5" y="152.8" font-size="5.6" font-weight="bold" fill="#111">T4</text><circle cx="39.2" cy="150.8" r="1.1" fill="#1db3df"/><text x="45.8" y="152.6" font-size="5.2" font-weight="bold" fill="#2cbbea" textLength="14" lengthAdjust="spacingAndGlyphs">1-2μm</text><circle cx="67" cy="150.8" r="2.1" fill="url(#gg)"/><text x="74" y="152.6" font-size="5.2" font-weight="bold" fill="#20aa80" textLength="14" lengthAdjust="spacingAndGlyphs">2-3μm</text><circle cx="95.9" cy="150.8" r="2.7" fill="url(#gn)"/><text x="103.3" y="152.6" font-size="5.2" font-weight="bold" fill="#4444a2" textLength="14.2" lengthAdjust="spacingAndGlyphs">3-5μm</text><circle cx="124.4" cy="150.8" r="2.8" fill="url(#go)"/><text x="130.5" y="152.6" font-size="5.2" font-weight="bold" fill="#f8902a" textLength="19" lengthAdjust="spacingAndGlyphs">5-10μm</text><clipPath id="cp4"><rect x="174.6" y="146.2" width="124.5" height="100.8"/></clipPath><g clip-path="url(#cp4)"><circle cx="189.97" cy="215.35" r="1.15" fill="#1db3df"/><circle cx="197.16" cy="227.79" r="1.15" fill="#1db3df"/><circle cx="202.41" cy="203.6" r="1.15" fill="#1db3df"/><circle cx="267.52" cy="171.99" r="1.15" fill="#1db3df"/><circle cx="239.04" cy="184.43" r="1.15" fill="#1db3df"/><circle cx="272.22" cy="197.42" r="1.15" fill="#1db3df"/><circle cx="239.87" cy="209.55" r="1.15" fill="#1db3df"/><circle cx="212.36" cy="202.63" r="2.1" fill="url(#gg)"/><circle cx="199.37" cy="208.72" r="2.1" fill="url(#gg)"/><circle cx="216.92" cy="213.28" r="2.1" fill="url(#gg)"/><circle cx="215.96" cy="220.19" r="2.1" fill="url(#gg)"/><circle cx="218.72" cy="218.81" r="2.1" fill="url(#gg)"/><circle cx="219.69" cy="221.99" r="2.1" fill="url(#gg)"/><circle cx="216.51" cy="225.72" r="2.1" fill="url(#gg)"/><circle cx="193.01" cy="235.4" r="2.1" fill="url(#gg)"/><circle cx="222.87" cy="236.78" r="2.1" fill="url(#gg)"/><circle cx="234.2" cy="213.69" r="2.1" fill="url(#gg)"/><circle cx="246.78" cy="191.34" r="2.1" fill="url(#gg)"/><circle cx="247.33" cy="194.66" r="2.1" fill="url(#gg)"/><circle cx="256.04" cy="193.69" r="2.1" fill="url(#gg)"/><circle cx="265.03" cy="189.13" r="2.1" fill="url(#gg)"/><circle cx="278.57" cy="190.92" r="2.1" fill="url(#gg)"/><circle cx="280.92" cy="194.1" r="2.1" fill="url(#gg)"/><circle cx="248.44" cy="209.55" r="2.1" fill="url(#gg)"/><circle cx="274.01" cy="201.81" r="2.1" fill="url(#gg)"/><circle cx="284.1" cy="199.46" r="2.1" fill="url(#gg)"/><circle cx="285.07" cy="215.08" r="2.1" fill="url(#gg)"/><circle cx="251.21" cy="220.19" r="2.1" fill="url(#gg)"/><circle cx="256.73" cy="220.19" r="2.1" fill="url(#gg)"/><circle cx="278.85" cy="231.25" r="2.1" fill="url(#gg)"/><circle cx="279.54" cy="234.98" r="2.1" fill="url(#gg)"/><circle cx="194.81" cy="161.9" r="2.95" fill="url(#gn)"/><circle cx="198.95" cy="160.1" r="2.95" fill="url(#gn)"/><circle cx="203.79" cy="158.72" r="2.95" fill="url(#gn)"/><circle cx="198.95" cy="170.6" r="2.95" fill="url(#gn)"/><circle cx="194.81" cy="186.78" r="2.95" fill="url(#gn)"/><circle cx="203.1" cy="194.1" r="2.95" fill="url(#gn)"/><circle cx="195.22" cy="205.95" r="2.95" fill="url(#gn)"/><circle cx="218.31" cy="208.44" r="2.95" fill="url(#gn)"/><circle cx="222.87" cy="219.78" r="2.95" fill="url(#gn)"/><circle cx="213.75" cy="225.3" r="2.95" fill="url(#gn)"/><circle cx="232.82" cy="227.52" r="2.95" fill="url(#gn)"/><circle cx="240.42" cy="171.57" r="2.95" fill="url(#gn)"/><circle cx="256.04" cy="176.41" r="2.95" fill="url(#gn)"/><circle cx="257.84" cy="175.03" r="2.95" fill="url(#gn)"/><circle cx="262.26" cy="177.1" r="2.95" fill="url(#gn)"/><circle cx="270.56" cy="176.41" r="2.95" fill="url(#gn)"/><circle cx="275.81" cy="178.9" r="2.95" fill="url(#gn)"/><circle cx="283" cy="183.05" r="2.95" fill="url(#gn)"/><circle cx="284.66" cy="179.87" r="2.95" fill="url(#gn)"/><circle cx="251.48" cy="189.96" r="2.95" fill="url(#gn)"/><circle cx="255.63" cy="200.42" r="2.95" fill="url(#gn)"/><circle cx="265.03" cy="203.6" r="2.95" fill="url(#gn)"/><circle cx="266.69" cy="201.53" r="2.95" fill="url(#gn)"/><circle cx="276.09" cy="224.34" r="2.95" fill="url(#gn)"/><circle cx="247.75" cy="228.9" r="2.95" fill="url(#gn)"/><circle cx="257.84" cy="234.01" r="2.95" fill="url(#gn)"/><circle cx="276.36" cy="241.62" r="2.95" fill="url(#gn)"/><circle cx="208.22" cy="185.4" r="3.7" fill="url(#go)"/><circle cx="205.17" cy="206.78" r="3.7" fill="url(#go)"/><circle cx="225.63" cy="208.16" r="3.7" fill="url(#go)"/><circle cx="194.39" cy="217.01" r="3.7" fill="url(#go)"/><circle cx="203.52" cy="217.84" r="3.7" fill="url(#go)"/><circle cx="282.72" cy="176.13" r="3.7" fill="url(#go)"/><circle cx="274.43" cy="191.34" r="3.7" fill="url(#go)"/><circle cx="251.48" cy="202.63" r="3.7" fill="url(#go)"/><circle cx="264.34" cy="217.43" r="3.7" fill="url(#go)"/><circle cx="278.57" cy="217.84" r="3.7" fill="url(#go)"/><circle cx="283" cy="229.17" r="3.7" fill="url(#go)"/><circle cx="269.17" cy="236.78" r="3.7" fill="url(#go)"/></g><rect x="174.6" y="146.2" width="124.5" height="100.8" fill="none" stroke="#333" stroke-width="1.15"/><text x="174.6" y="254.1" font-size="5.3" font-weight="bold" text-anchor="middle" fill="#333">0</text><text x="195.35" y="254.1" font-size="5.3" font-weight="bold" text-anchor="middle" fill="#333">1</text><text x="216.1" y="254.1" font-size="5.3" font-weight="bold" text-anchor="middle" fill="#333">2</text><text x="236.85" y="254.1" font-size="5.3" font-weight="bold" text-anchor="middle" fill="#333">3</text><text x="257.6" y="254.1" font-size="5.3" font-weight="bold" text-anchor="middle" fill="#333">4</text><text x="278.35" y="254.1" font-size="5.3" font-weight="bold" text-anchor="middle" fill="#333">5</text><text x="299.1" y="254.1" font-size="5.3" font-weight="bold" text-anchor="middle" fill="#333">6</text><text x="172.4" y="240.5" font-size="5.3" font-weight="bold" text-anchor="end" fill="#333">1</text><text x="172.4" y="223.7" font-size="5.3" font-weight="bold" text-anchor="end" fill="#333">2</text><text x="172.4" y="206.9" font-size="5.3" font-weight="bold" text-anchor="end" fill="#333">3</text><text x="172.4" y="190.1" font-size="5.3" font-weight="bold" text-anchor="end" fill="#333">4</text><text x="172.4" y="173.3" font-size="5.3" font-weight="bold" text-anchor="end" fill="#333">5</text><text x="172.4" y="156.5" font-size="5.3" font-weight="bold" text-anchor="end" fill="#333">6</text><path d="M174.6 247v-2 M195.35 247v-2 M216.1 247v-2 M236.85 247v-2 M257.6 247v-2 M278.35 247v-2 M299.1 247v-2 M174.6 238.6h2 M174.6 221.8h2 M174.6 205h2 M174.6 188.2h2 M174.6 171.4h2 M174.6 154.6h2" stroke="#2a2a2a" stroke-width="1" fill="none"/><text x="235.05" y="262.4" font-size="7" font-weight="bold" text-anchor="middle" fill="#111" textLength="16.5" lengthAdjust="spacingAndGlyphs">X/mm</text><text transform="translate(166 196.6) rotate(-90)" font-size="7" font-weight="bold" text-anchor="middle" fill="#111" textLength="16" lengthAdjust="spacingAndGlyphs">Y/mm</text><text x="176.1" y="152.8" font-size="5.6" font-weight="bold" fill="#111">T5</text><circle cx="187.8" cy="150.8" r="1.1" fill="#1db3df"/><text x="194.4" y="152.6" font-size="5.2" font-weight="bold" fill="#2cbbea" textLength="14" lengthAdjust="spacingAndGlyphs">1-2μm</text><circle cx="215.6" cy="150.8" r="2.1" fill="url(#gg)"/><text x="222.6" y="152.6" font-size="5.2" font-weight="bold" fill="#20aa80" textLength="14" lengthAdjust="spacingAndGlyphs">2-3μm</text><circle cx="244.5" cy="150.8" r="2.7" fill="url(#gn)"/><text x="251.9" y="152.6" font-size="5.2" font-weight="bold" fill="#4444a2" textLength="14.2" lengthAdjust="spacingAndGlyphs">3-5μm</text><circle cx="273" cy="150.8" r="2.8" fill="url(#go)"/><text x="279.1" y="152.6" font-size="5.2" font-weight="bold" fill="#f8902a" textLength="19" lengthAdjust="spacingAndGlyphs">5-10μm</text><clipPath id="cp5"><rect x="318.55" y="145.6" width="125.65" height="101.5"/></clipPath><g clip-path="url(#cp5)"><circle cx="348.1" cy="173.34" r="1.15" fill="#1db3df"/><circle cx="328.75" cy="188.13" r="1.15" fill="#1db3df"/><circle cx="350.45" cy="208.55" r="1.15" fill="#1db3df"/><circle cx="407.95" cy="193.66" r="1.15" fill="#1db3df"/><circle cx="430.07" cy="203.98" r="1.15" fill="#1db3df"/><circle cx="388.6" cy="211.31" r="1.15" fill="#1db3df"/><circle cx="395.51" cy="210.9" r="1.15" fill="#1db3df"/><circle cx="412.52" cy="215.73" r="1.15" fill="#1db3df"/><circle cx="342.16" cy="165.04" r="2.1" fill="url(#gg)"/><circle cx="355.43" cy="177.9" r="2.1" fill="url(#gg)"/><circle cx="328.75" cy="181.63" r="2.1" fill="url(#gg)"/><circle cx="362.89" cy="182.05" r="2.1" fill="url(#gg)"/><circle cx="361.92" cy="186.19" r="2.1" fill="url(#gg)"/><circle cx="378.51" cy="178.87" r="2.1" fill="url(#gg)"/><circle cx="379.2" cy="182.32" r="2.1" fill="url(#gg)"/><circle cx="338.01" cy="194.07" r="2.1" fill="url(#gg)"/><circle cx="343.95" cy="195.45" r="2.1" fill="url(#gg)"/><circle cx="353.63" cy="196.14" r="2.1" fill="url(#gg)"/><circle cx="372.98" cy="195.45" r="2.1" fill="url(#gg)"/><circle cx="364.69" cy="208.82" r="2.1" fill="url(#gg)"/><circle cx="360.96" cy="213.66" r="2.1" fill="url(#gg)"/><circle cx="347.69" cy="217.12" r="2.1" fill="url(#gg)"/><circle cx="351.56" cy="221.95" r="2.1" fill="url(#gg)"/><circle cx="341.88" cy="229.56" r="2.1" fill="url(#gg)"/><circle cx="376.71" cy="231.22" r="2.1" fill="url(#gg)"/><circle cx="394.13" cy="182.6" r="2.1" fill="url(#gg)"/><circle cx="415.56" cy="180.66" r="2.1" fill="url(#gg)"/><circle cx="425.92" cy="175.69" r="2.1" fill="url(#gg)"/><circle cx="432.84" cy="193.38" r="2.1" fill="url(#gg)"/><circle cx="395.93" cy="195.04" r="2.1" fill="url(#gg)"/><circle cx="409.75" cy="200.81" r="2.1" fill="url(#gg)"/><circle cx="432.42" cy="214.08" r="2.1" fill="url(#gg)"/><circle cx="396.9" cy="228.45" r="2.1" fill="url(#gg)"/><circle cx="390.95" cy="231.63" r="2.1" fill="url(#gg)"/><circle cx="413.07" cy="235.09" r="2.1" fill="url(#gg)"/><circle cx="417.63" cy="236.19" r="2.1" fill="url(#gg)"/><circle cx="428" cy="240.34" r="2.1" fill="url(#gg)"/><circle cx="343.26" cy="171.54" r="2.95" fill="url(#gn)"/><circle cx="364.27" cy="200.53" r="2.95" fill="url(#gn)"/><circle cx="368.42" cy="198.87" r="2.95" fill="url(#gn)"/><circle cx="376.71" cy="201.91" r="2.95" fill="url(#gn)"/><circle cx="348.52" cy="213.25" r="2.95" fill="url(#gn)"/><circle cx="370.63" cy="224.72" r="2.95" fill="url(#gn)"/><circle cx="379.89" cy="217.12" r="2.95" fill="url(#gn)"/><circle cx="380.59" cy="225.41" r="2.95" fill="url(#gn)"/><circle cx="412.52" cy="183.01" r="2.95" fill="url(#gn)"/><circle cx="429.66" cy="175.13" r="2.95" fill="url(#gn)"/><circle cx="389.02" cy="192" r="2.95" fill="url(#gn)"/><circle cx="384.46" cy="210.9" r="2.95" fill="url(#gn)"/><circle cx="386.53" cy="222.37" r="2.95" fill="url(#gn)"/><circle cx="399.66" cy="236.19" r="2.95" fill="url(#gn)"/><circle cx="425.51" cy="236.19" r="2.95" fill="url(#gn)"/><circle cx="432.84" cy="240.89" r="2.95" fill="url(#gn)"/><circle cx="335.25" cy="168.22" r="3.7" fill="url(#go)"/><circle cx="367.45" cy="193.66" r="3.7" fill="url(#go)"/><circle cx="375.06" cy="236.19" r="3.7" fill="url(#go)"/><circle cx="410.72" cy="180.66" r="3.7" fill="url(#go)"/><circle cx="432.42" cy="177.48" r="3.7" fill="url(#go)"/><circle cx="433.25" cy="187.57" r="3.7" fill="url(#go)"/><circle cx="390.4" cy="187.16" r="3.7" fill="url(#go)"/><circle cx="395.1" cy="189.23" r="3.7" fill="url(#go)"/></g><rect x="318.55" y="145.6" width="125.65" height="101.5" fill="none" stroke="#333" stroke-width="1.15"/><text x="329.97" y="254.2" font-size="5.3" font-weight="bold" text-anchor="middle" fill="#333">1</text><text x="352.82" y="254.2" font-size="5.3" font-weight="bold" text-anchor="middle" fill="#333">2</text><text x="375.66" y="254.2" font-size="5.3" font-weight="bold" text-anchor="middle" fill="#333">3</text><text x="398.51" y="254.2" font-size="5.3" font-weight="bold" text-anchor="middle" fill="#333">4</text><text x="421.35" y="254.2" font-size="5.3" font-weight="bold" text-anchor="middle" fill="#333">5</text><text x="444.2" y="254.2" font-size="5.3" font-weight="bold" text-anchor="middle" fill="#333">6</text><text x="316.35" y="249" font-size="5.3" font-weight="bold" text-anchor="end" fill="#333">0</text><text x="316.35" y="232.08" font-size="5.3" font-weight="bold" text-anchor="end" fill="#333">1</text><text x="316.35" y="215.17" font-size="5.3" font-weight="bold" text-anchor="end" fill="#333">2</text><text x="316.35" y="198.25" font-size="5.3" font-weight="bold" text-anchor="end" fill="#333">3</text><text x="316.35" y="181.33" font-size="5.3" font-weight="bold" text-anchor="end" fill="#333">4</text><text x="316.35" y="164.42" font-size="5.3" font-weight="bold" text-anchor="end" fill="#333">5</text><text x="316.35" y="147.5" font-size="5.3" font-weight="bold" text-anchor="end" fill="#333">6</text><path d="M329.97 247.1v-2 M352.82 247.1v-2 M375.66 247.1v-2 M398.51 247.1v-2 M421.35 247.1v-2 M444.2 247.1v-2 M318.55 247.1h2 M318.55 230.18h2 M318.55 213.27h2 M318.55 196.35h2 M318.55 179.43h2 M318.55 162.52h2 M318.55 145.6h2" stroke="#2a2a2a" stroke-width="1" fill="none"/><text x="379.57" y="262.5" font-size="7" font-weight="bold" text-anchor="middle" fill="#111" textLength="16.5" lengthAdjust="spacingAndGlyphs">X/mm</text><text transform="translate(309.95 196.35) rotate(-90)" font-size="7" font-weight="bold" text-anchor="middle" fill="#111" textLength="16" lengthAdjust="spacingAndGlyphs">Y/mm</text><text x="319.85" y="152.6" font-size="5.6" font-weight="bold" fill="#111" textLength="18" lengthAdjust="spacingAndGlyphs">Normal</text><circle cx="331.75" cy="155.3" r="1.1" fill="#1db3df"/><text x="338.35" y="157.1" font-size="5.2" font-weight="bold" fill="#2cbbea" textLength="14" lengthAdjust="spacingAndGlyphs">1-2μm</text><circle cx="359.55" cy="155.3" r="2.1" fill="url(#gg)"/><text x="366.55" y="157.1" font-size="5.2" font-weight="bold" fill="#20aa80" textLength="14" lengthAdjust="spacingAndGlyphs">2-3μm</text><circle cx="388.45" cy="155.3" r="2.7" fill="url(#gn)"/><text x="395.85" y="157.1" font-size="5.2" font-weight="bold" fill="#4444a2" textLength="14.2" lengthAdjust="spacingAndGlyphs">3-5μm</text><circle cx="416.95" cy="155.3" r="2.8" fill="url(#go)"/><text x="423.05" y="157.1" font-size="5.2" font-weight="bold" fill="#f8902a" textLength="19" lengthAdjust="spacingAndGlyphs">5-10μm</text><clipPath id="cp6"><rect x="27.2" y="289.6" width="124.7" height="101"/></clipPath><g clip-path="url(#cp6)"><circle cx="59.87" cy="298.95" r="1.15" fill="#1db3df"/><circle cx="50.88" cy="329.36" r="1.15" fill="#1db3df"/><circle cx="68.85" cy="363.88" r="1.15" fill="#1db3df"/><circle cx="117.37" cy="375.22" r="1.15" fill="#1db3df"/><circle cx="34.98" cy="312.22" r="2.1" fill="url(#gg)"/><circle cx="63.05" cy="306.28" r="2.1" fill="url(#gg)"/><circle cx="58.48" cy="312.22" r="2.1" fill="url(#gg)"/><circle cx="65.4" cy="315.26" r="2.1" fill="url(#gg)"/><circle cx="78.25" cy="324.25" r="2.1" fill="url(#gg)"/><circle cx="85.44" cy="319.13" r="2.1" fill="url(#gg)"/><circle cx="41.9" cy="330.75" r="2.1" fill="url(#gg)"/><circle cx="54.75" cy="333.51" r="2.1" fill="url(#gg)"/><circle cx="81.57" cy="333.51" r="2.1" fill="url(#gg)"/><circle cx="62.22" cy="348.68" r="2.1" fill="url(#gg)"/><circle cx="62.63" cy="355.86" r="2.1" fill="url(#gg)"/><circle cx="68.85" cy="360.43" r="2.1" fill="url(#gg)"/><circle cx="41.21" cy="367.34" r="2.1" fill="url(#gg)"/><circle cx="46.04" cy="367.75" r="2.1" fill="url(#gg)"/><circle cx="119.03" cy="310.01" r="2.1" fill="url(#gg)"/><circle cx="137.69" cy="310.84" r="2.1" fill="url(#gg)"/><circle cx="133.96" cy="316.37" r="2.1" fill="url(#gg)"/><circle cx="101.06" cy="322.17" r="2.1" fill="url(#gg)"/><circle cx="94.84" cy="338.76" r="2.1" fill="url(#gg)"/><circle cx="96.22" cy="348.4" r="2.1" fill="url(#gg)"/><circle cx="92.76" cy="363.88" r="2.1" fill="url(#gg)"/><circle cx="115.99" cy="364.99" r="2.1" fill="url(#gg)"/><circle cx="122.48" cy="365.95" r="2.1" fill="url(#gg)"/><circle cx="114.88" cy="372.45" r="2.1" fill="url(#gg)"/><circle cx="138.38" cy="359.04" r="2.1" fill="url(#gg)"/><circle cx="53.37" cy="296.6" r="2.95" fill="url(#gn)"/><circle cx="55.03" cy="298.68" r="2.95" fill="url(#gn)"/><circle cx="63.05" cy="301.72" r="2.95" fill="url(#gn)"/><circle cx="67.19" cy="301.44" r="2.95" fill="url(#gn)"/><circle cx="45.35" cy="306.97" r="2.95" fill="url(#gn)"/><circle cx="49.78" cy="313.19" r="2.95" fill="url(#gn)"/><circle cx="49.22" cy="318.03" r="2.95" fill="url(#gn)"/><circle cx="74.1" cy="309.73" r="2.95" fill="url(#gn)"/><circle cx="82.67" cy="308.08" r="2.95" fill="url(#gn)"/><circle cx="85.71" cy="312.5" r="2.95" fill="url(#gn)"/><circle cx="83.78" cy="315.95" r="2.95" fill="url(#gn)"/><circle cx="58.07" cy="324.66" r="2.95" fill="url(#gn)"/><circle cx="61.25" cy="338.07" r="2.95" fill="url(#gn)"/><circle cx="74.38" cy="331.16" r="2.95" fill="url(#gn)"/><circle cx="51.57" cy="341.49" r="2.95" fill="url(#gn)"/><circle cx="58.9" cy="343.42" r="2.95" fill="url(#gn)"/><circle cx="55.3" cy="348.68" r="2.95" fill="url(#gn)"/><circle cx="68.85" cy="349.37" r="2.95" fill="url(#gn)"/><circle cx="71.89" cy="344.81" r="2.95" fill="url(#gn)"/><circle cx="64.98" cy="354.48" r="2.95" fill="url(#gn)"/><circle cx="77.42" cy="355.31" r="2.95" fill="url(#gn)"/><circle cx="80.19" cy="361.81" r="2.95" fill="url(#gn)"/><circle cx="70.92" cy="368.72" r="2.95" fill="url(#gn)"/><circle cx="77.42" cy="368.72" r="2.95" fill="url(#gn)"/><circle cx="110.73" cy="309.04" r="2.95" fill="url(#gn)"/><circle cx="109.08" cy="315.95" r="2.95" fill="url(#gn)"/><circle cx="103.13" cy="318.72" r="2.95" fill="url(#gn)"/><circle cx="117.65" cy="320.52" r="2.95" fill="url(#gn)"/><circle cx="121.1" cy="321.07" r="2.95" fill="url(#gn)"/><circle cx="138.66" cy="320.1" r="2.95" fill="url(#gn)"/><circle cx="138.38" cy="324.25" r="2.95" fill="url(#gn)"/><circle cx="116.26" cy="333.51" r="2.95" fill="url(#gn)"/><circle cx="105.48" cy="334.62" r="2.95" fill="url(#gn)"/><circle cx="103.13" cy="337.66" r="2.95" fill="url(#gn)"/><circle cx="135.62" cy="336.69" r="2.95" fill="url(#gn)"/><circle cx="114.88" cy="341.76" r="2.95" fill="url(#gn)"/><circle cx="104.93" cy="352.13" r="2.95" fill="url(#gn)"/><circle cx="125.25" cy="354.9" r="2.95" fill="url(#gn)"/><circle cx="139.07" cy="348.4" r="2.95" fill="url(#gn)"/><circle cx="42.59" cy="311.12" r="3.7" fill="url(#go)"/><circle cx="43.97" cy="319.41" r="3.7" fill="url(#go)"/><circle cx="75.49" cy="319.69" r="3.7" fill="url(#go)"/><circle cx="77.42" cy="329.36" r="3.7" fill="url(#go)"/><circle cx="76.45" cy="334.89" r="3.7" fill="url(#go)"/><circle cx="43.69" cy="336" r="3.7" fill="url(#go)"/><circle cx="41.9" cy="343.84" r="3.7" fill="url(#go)"/><circle cx="112.12" cy="352.82" r="3.7" fill="url(#go)"/><circle cx="101.75" cy="361.12" r="3.7" fill="url(#go)"/><circle cx="98.57" cy="364.57" r="3.7" fill="url(#go)"/><circle cx="107.97" cy="379.09" r="3.7" fill="url(#go)"/></g><rect x="27.2" y="289.6" width="124.7" height="101" fill="none" stroke="#333" stroke-width="1.15"/><text x="38.54" y="397.7" font-size="5.3" font-weight="bold" text-anchor="middle" fill="#333">1</text><text x="61.21" y="397.7" font-size="5.3" font-weight="bold" text-anchor="middle" fill="#333">2</text><text x="83.88" y="397.7" font-size="5.3" font-weight="bold" text-anchor="middle" fill="#333">3</text><text x="106.55" y="397.7" font-size="5.3" font-weight="bold" text-anchor="middle" fill="#333">4</text><text x="129.23" y="397.7" font-size="5.3" font-weight="bold" text-anchor="middle" fill="#333">5</text><text x="151.9" y="397.7" font-size="5.3" font-weight="bold" text-anchor="middle" fill="#333">6</text><text x="25" y="392.5" font-size="5.3" font-weight="bold" text-anchor="end" fill="#333">0</text><text x="25" y="375.67" font-size="5.3" font-weight="bold" text-anchor="end" fill="#333">1</text><text x="25" y="358.83" font-size="5.3" font-weight="bold" text-anchor="end" fill="#333">2</text><text x="25" y="342" font-size="5.3" font-weight="bold" text-anchor="end" fill="#333">3</text><text x="25" y="325.17" font-size="5.3" font-weight="bold" text-anchor="end" fill="#333">4</text><text x="25" y="308.33" font-size="5.3" font-weight="bold" text-anchor="end" fill="#333">5</text><text x="25" y="291.5" font-size="5.3" font-weight="bold" text-anchor="end" fill="#333">6</text><path d="M38.54 390.6v-2 M61.21 390.6v-2 M83.88 390.6v-2 M106.55 390.6v-2 M129.23 390.6v-2 M151.9 390.6v-2 M27.2 390.6h2 M27.2 373.77h2 M27.2 356.93h2 M27.2 340.1h2 M27.2 323.27h2 M27.2 306.43h2 M27.2 289.6h2" stroke="#2a2a2a" stroke-width="1" fill="none"/><text x="87.75" y="406" font-size="7" font-weight="bold" text-anchor="middle" fill="#111" textLength="16.5" lengthAdjust="spacingAndGlyphs">X/mm</text><text transform="translate(18.6 340.1) rotate(-90)" font-size="7" font-weight="bold" text-anchor="middle" fill="#111" textLength="16" lengthAdjust="spacingAndGlyphs">Y/mm</text><text x="28.7" y="296.2" font-size="5.6" font-weight="bold" fill="#111">W1</text><circle cx="40.4" cy="294.2" r="1.1" fill="#1db3df"/><text x="47" y="296" font-size="5.2" font-weight="bold" fill="#2cbbea" textLength="14" lengthAdjust="spacingAndGlyphs">1-2μm</text><circle cx="68.2" cy="294.2" r="2.1" fill="url(#gg)"/><text x="75.2" y="296" font-size="5.2" font-weight="bold" fill="#20aa80" textLength="14" lengthAdjust="spacingAndGlyphs">2-3μm</text><circle cx="97.1" cy="294.2" r="2.7" fill="url(#gn)"/><text x="104.5" y="296" font-size="5.2" font-weight="bold" fill="#4444a2" textLength="14.2" lengthAdjust="spacingAndGlyphs">3-5μm</text><circle cx="125.6" cy="294.2" r="2.8" fill="url(#go)"/><text x="131.7" y="296" font-size="5.2" font-weight="bold" fill="#f8902a" textLength="19" lengthAdjust="spacingAndGlyphs">5-10μm</text><clipPath id="cp7"><rect x="173.4" y="289.8" width="125.5" height="101.8"/></clipPath><g clip-path="url(#cp7)"><circle cx="219.69" cy="332.54" r="1.15" fill="#1db3df"/><circle cx="220.1" cy="350.75" r="1.15" fill="#1db3df"/><circle cx="268.07" cy="319.69" r="1.15" fill="#1db3df"/><circle cx="252.59" cy="367.34" r="1.15" fill="#1db3df"/><circle cx="200.34" cy="321.48" r="2.1" fill="url(#gg)"/><circle cx="209.32" cy="325.22" r="2.1" fill="url(#gg)"/><circle cx="221.76" cy="337.66" r="2.1" fill="url(#gg)"/><circle cx="210.01" cy="353.93" r="2.1" fill="url(#gg)"/><circle cx="234.89" cy="367.34" r="2.1" fill="url(#gg)"/><circle cx="251.21" cy="321.07" r="2.1" fill="url(#gg)"/><circle cx="257.84" cy="328.4" r="2.1" fill="url(#gg)"/><circle cx="284.66" cy="345.22" r="2.1" fill="url(#gg)"/><circle cx="252.31" cy="355.59" r="2.1" fill="url(#gg)"/><circle cx="251.9" cy="370.1" r="2.1" fill="url(#gg)"/><circle cx="280.92" cy="369.41" r="2.1" fill="url(#gg)"/><circle cx="285.07" cy="372.17" r="2.1" fill="url(#gg)"/><circle cx="212.78" cy="302.13" r="2.95" fill="url(#gn)"/><circle cx="188.59" cy="316.65" r="2.95" fill="url(#gn)"/><circle cx="208.22" cy="318.72" r="2.95" fill="url(#gn)"/><circle cx="212.36" cy="320.1" r="2.95" fill="url(#gn)"/><circle cx="193.01" cy="334.34" r="2.95" fill="url(#gn)"/><circle cx="225.63" cy="344.25" r="2.95" fill="url(#gn)"/><circle cx="233.93" cy="348.68" r="2.95" fill="url(#gn)"/><circle cx="226.6" cy="352.13" r="2.95" fill="url(#gn)"/><circle cx="208.63" cy="351.16" r="2.95" fill="url(#gn)"/><circle cx="212.09" cy="350.75" r="2.95" fill="url(#gn)"/><circle cx="202.69" cy="366.65" r="2.95" fill="url(#gn)"/><circle cx="193.43" cy="361.81" r="2.95" fill="url(#gn)"/><circle cx="272.63" cy="311.81" r="2.95" fill="url(#gn)"/><circle cx="240.42" cy="324.25" r="2.95" fill="url(#gn)"/><circle cx="245.95" cy="324.94" r="2.95" fill="url(#gn)"/><circle cx="284.1" cy="330.47" r="2.95" fill="url(#gn)"/><circle cx="255.08" cy="335.31" r="2.95" fill="url(#gn)"/><circle cx="258.39" cy="337.66" r="2.95" fill="url(#gn)"/><circle cx="268.07" cy="336.69" r="2.95" fill="url(#gn)"/><circle cx="251.48" cy="340.66" r="2.95" fill="url(#gn)"/><circle cx="257.84" cy="353.51" r="2.95" fill="url(#gn)"/><circle cx="260.6" cy="354.9" r="2.95" fill="url(#gn)"/><circle cx="265.3" cy="357.25" r="2.95" fill="url(#gn)"/><circle cx="268.9" cy="367.34" r="2.95" fill="url(#gn)"/><circle cx="262.54" cy="372.45" r="2.95" fill="url(#gn)"/><circle cx="255.08" cy="376.05" r="2.95" fill="url(#gn)"/><circle cx="218.31" cy="297.57" r="3.7" fill="url(#go)"/><circle cx="216.92" cy="300.75" r="3.7" fill="url(#go)"/><circle cx="215.13" cy="305.59" r="3.7" fill="url(#go)"/><circle cx="208.63" cy="320.52" r="3.7" fill="url(#go)"/><circle cx="195.78" cy="360.43" r="3.7" fill="url(#go)"/><circle cx="217.89" cy="360.43" r="3.7" fill="url(#go)"/><circle cx="282.72" cy="323.83" r="3.7" fill="url(#go)"/><circle cx="267.52" cy="350.33" r="3.7" fill="url(#go)"/><circle cx="279.54" cy="350.33" r="3.7" fill="url(#go)"/><circle cx="271.94" cy="380.47" r="3.7" fill="url(#go)"/></g><rect x="173.4" y="289.8" width="125.5" height="101.8" fill="none" stroke="#333" stroke-width="1.15"/><text x="173.4" y="398.7" font-size="5.3" font-weight="bold" text-anchor="middle" fill="#333">0</text><text x="194.32" y="398.7" font-size="5.3" font-weight="bold" text-anchor="middle" fill="#333">1</text><text x="215.23" y="398.7" font-size="5.3" font-weight="bold" text-anchor="middle" fill="#333">2</text><text x="236.15" y="398.7" font-size="5.3" font-weight="bold" text-anchor="middle" fill="#333">3</text><text x="257.07" y="398.7" font-size="5.3" font-weight="bold" text-anchor="middle" fill="#333">4</text><text x="277.98" y="398.7" font-size="5.3" font-weight="bold" text-anchor="middle" fill="#333">5</text><text x="298.9" y="398.7" font-size="5.3" font-weight="bold" text-anchor="middle" fill="#333">6</text><text x="171.2" y="393.5" font-size="5.3" font-weight="bold" text-anchor="end" fill="#333">0</text><text x="171.2" y="376.53" font-size="5.3" font-weight="bold" text-anchor="end" fill="#333">1</text><text x="171.2" y="359.57" font-size="5.3" font-weight="bold" text-anchor="end" fill="#333">2</text><text x="171.2" y="342.6" font-size="5.3" font-weight="bold" text-anchor="end" fill="#333">3</text><text x="171.2" y="325.63" font-size="5.3" font-weight="bold" text-anchor="end" fill="#333">4</text><text x="171.2" y="308.67" font-size="5.3" font-weight="bold" text-anchor="end" fill="#333">5</text><text x="171.2" y="291.7" font-size="5.3" font-weight="bold" text-anchor="end" fill="#333">6</text><path d="M173.4 391.6v-2 M194.32 391.6v-2 M215.23 391.6v-2 M236.15 391.6v-2 M257.07 391.6v-2 M277.98 391.6v-2 M298.9 391.6v-2 M173.4 391.6h2 M173.4 374.63h2 M173.4 357.67h2 M173.4 340.7h2 M173.4 323.73h2 M173.4 306.77h2 M173.4 289.8h2" stroke="#2a2a2a" stroke-width="1" fill="none"/><text x="234.35" y="407" font-size="7" font-weight="bold" text-anchor="middle" fill="#111" textLength="16.5" lengthAdjust="spacingAndGlyphs">X/mm</text><text transform="translate(164.8 340.7) rotate(-90)" font-size="7" font-weight="bold" text-anchor="middle" fill="#111" textLength="16" lengthAdjust="spacingAndGlyphs">Y/mm</text><text x="174.9" y="296.4" font-size="5.6" font-weight="bold" fill="#111">W2</text><circle cx="186.6" cy="294.4" r="1.1" fill="#1db3df"/><text x="193.2" y="296.2" font-size="5.2" font-weight="bold" fill="#2cbbea" textLength="14" lengthAdjust="spacingAndGlyphs">1-2μm</text><circle cx="214.4" cy="294.4" r="2.1" fill="url(#gg)"/><text x="221.4" y="296.2" font-size="5.2" font-weight="bold" fill="#20aa80" textLength="14" lengthAdjust="spacingAndGlyphs">2-3μm</text><circle cx="243.3" cy="294.4" r="2.7" fill="url(#gn)"/><text x="250.7" y="296.2" font-size="5.2" font-weight="bold" fill="#4444a2" textLength="14.2" lengthAdjust="spacingAndGlyphs">3-5μm</text><circle cx="271.8" cy="294.4" r="2.8" fill="url(#go)"/><text x="277.9" y="296.2" font-size="5.2" font-weight="bold" fill="#f8902a" textLength="19" lengthAdjust="spacingAndGlyphs">5-10μm</text><clipPath id="cp8"><rect x="319.6" y="289.7" width="124.7" height="100.9"/></clipPath><g clip-path="url(#cp8)"><circle cx="358.09" cy="309.73" r="1.15" fill="#1db3df"/><circle cx="351.17" cy="319.69" r="1.15" fill="#1db3df"/><circle cx="356.7" cy="330.19" r="1.15" fill="#1db3df"/><circle cx="366.38" cy="362.84" r="1.15" fill="#1db3df"/><circle cx="366.1" cy="366.57" r="1.15" fill="#1db3df"/><circle cx="380.89" cy="346.81" r="1.15" fill="#1db3df"/><circle cx="414.07" cy="342.38" r="1.15" fill="#1db3df"/><circle cx="386.84" cy="351.78" r="1.15" fill="#1db3df"/><circle cx="397.9" cy="373.9" r="1.15" fill="#1db3df"/><circle cx="429" cy="364.78" r="1.15" fill="#1db3df"/><circle cx="351.87" cy="310.84" r="2.1" fill="url(#gg)"/><circle cx="335.97" cy="341.69" r="2.1" fill="url(#gg)"/><circle cx="342.88" cy="341.69" r="2.1" fill="url(#gg)"/><circle cx="353.25" cy="345.15" r="2.1" fill="url(#gg)"/><circle cx="371.22" cy="365.19" r="2.1" fill="url(#gg)"/><circle cx="372.19" cy="374.45" r="2.1" fill="url(#gg)"/><circle cx="391.95" cy="317.34" r="2.1" fill="url(#gg)"/><circle cx="407.99" cy="329.78" r="2.1" fill="url(#gg)"/><circle cx="409.37" cy="334.62" r="2.1" fill="url(#gg)"/><circle cx="385.87" cy="334.62" r="2.1" fill="url(#gg)"/><circle cx="386.15" cy="338.76" r="2.1" fill="url(#gg)"/><circle cx="390.98" cy="341.69" r="2.1" fill="url(#gg)"/><circle cx="430.66" cy="343.49" r="2.1" fill="url(#gg)"/><circle cx="411.3" cy="361.46" r="2.1" fill="url(#gg)"/><circle cx="385.87" cy="371.69" r="2.1" fill="url(#gg)"/><circle cx="338.46" cy="309.04" r="2.95" fill="url(#gn)"/><circle cx="355.05" cy="305.86" r="2.95" fill="url(#gn)"/><circle cx="361.96" cy="311.81" r="2.95" fill="url(#gn)"/><circle cx="340.81" cy="320.79" r="2.95" fill="url(#gn)"/><circle cx="377.44" cy="328.4" r="2.95" fill="url(#gn)"/><circle cx="353.25" cy="337.66" r="2.95" fill="url(#gn)"/><circle cx="365" cy="348.6" r="2.95" fill="url(#gn)"/><circle cx="374.67" cy="344.87" r="2.95" fill="url(#gn)"/><circle cx="374.95" cy="349.98" r="2.95" fill="url(#gn)"/><circle cx="373.98" cy="354.13" r="2.95" fill="url(#gn)"/><circle cx="379.93" cy="364.22" r="2.95" fill="url(#gn)"/><circle cx="396.1" cy="311.12" r="2.95" fill="url(#gn)"/><circle cx="383.11" cy="319.69" r="2.95" fill="url(#gn)"/><circle cx="396.51" cy="320.52" r="2.95" fill="url(#gn)"/><circle cx="407.99" cy="319.69" r="2.95" fill="url(#gn)"/><circle cx="417.66" cy="324.66" r="2.95" fill="url(#gn)"/><circle cx="392.37" cy="330.19" r="2.95" fill="url(#gn)"/><circle cx="391.68" cy="336.27" r="2.95" fill="url(#gn)"/><circle cx="396.93" cy="336" r="2.95" fill="url(#gn)"/><circle cx="405.5" cy="333.23" r="2.95" fill="url(#gn)"/><circle cx="412.13" cy="366.16" r="2.95" fill="url(#gn)"/><circle cx="431.07" cy="362.01" r="2.95" fill="url(#gn)"/><circle cx="423.19" cy="380.4" r="2.95" fill="url(#gn)"/><circle cx="410.75" cy="383.57" r="2.95" fill="url(#gn)"/><circle cx="351.17" cy="334.34" r="3.7" fill="url(#go)"/><circle cx="417.66" cy="316.65" r="3.7" fill="url(#go)"/><circle cx="423.47" cy="318.3" r="3.7" fill="url(#go)"/><circle cx="397.21" cy="325.63" r="3.7" fill="url(#go)"/></g><rect x="319.6" y="289.7" width="124.7" height="100.9" fill="none" stroke="#333" stroke-width="1.15"/><text x="319.6" y="397.7" font-size="5.3" font-weight="bold" text-anchor="middle" fill="#333">0</text><text x="340.38" y="397.7" font-size="5.3" font-weight="bold" text-anchor="middle" fill="#333">1</text><text x="361.17" y="397.7" font-size="5.3" font-weight="bold" text-anchor="middle" fill="#333">2</text><text x="381.95" y="397.7" font-size="5.3" font-weight="bold" text-anchor="middle" fill="#333">3</text><text x="402.73" y="397.7" font-size="5.3" font-weight="bold" text-anchor="middle" fill="#333">4</text><text x="423.52" y="397.7" font-size="5.3" font-weight="bold" text-anchor="middle" fill="#333">5</text><text x="444.3" y="397.7" font-size="5.3" font-weight="bold" text-anchor="middle" fill="#333">6</text><text x="317.4" y="392.5" font-size="5.3" font-weight="bold" text-anchor="end" fill="#333">0</text><text x="317.4" y="375.68" font-size="5.3" font-weight="bold" text-anchor="end" fill="#333">1</text><text x="317.4" y="358.87" font-size="5.3" font-weight="bold" text-anchor="end" fill="#333">2</text><text x="317.4" y="342.05" font-size="5.3" font-weight="bold" text-anchor="end" fill="#333">3</text><text x="317.4" y="325.23" font-size="5.3" font-weight="bold" text-anchor="end" fill="#333">4</text><text x="317.4" y="308.42" font-size="5.3" font-weight="bold" text-anchor="end" fill="#333">5</text><text x="317.4" y="291.6" font-size="5.3" font-weight="bold" text-anchor="end" fill="#333">6</text><path d="M319.6 390.6v-2 M340.38 390.6v-2 M361.17 390.6v-2 M381.95 390.6v-2 M402.73 390.6v-2 M423.52 390.6v-2 M444.3 390.6v-2 M319.6 390.6h2 M319.6 373.78h2 M319.6 356.97h2 M319.6 340.15h2 M319.6 323.33h2 M319.6 306.52h2 M319.6 289.7h2" stroke="#2a2a2a" stroke-width="1" fill="none"/><text x="380.15" y="406" font-size="7" font-weight="bold" text-anchor="middle" fill="#111" textLength="16.5" lengthAdjust="spacingAndGlyphs">X/mm</text><text transform="translate(311 340.15) rotate(-90)" font-size="7" font-weight="bold" text-anchor="middle" fill="#111" textLength="16" lengthAdjust="spacingAndGlyphs">Y/mm</text><text x="321.1" y="296.3" font-size="5.6" font-weight="bold" fill="#111">W3</text><circle cx="332.8" cy="294.3" r="1.1" fill="#1db3df"/><text x="339.4" y="296.1" font-size="5.2" font-weight="bold" fill="#2cbbea" textLength="14" lengthAdjust="spacingAndGlyphs">1-2μm</text><circle cx="360.6" cy="294.3" r="2.1" fill="url(#gg)"/><text x="367.6" y="296.1" font-size="5.2" font-weight="bold" fill="#20aa80" textLength="14" lengthAdjust="spacingAndGlyphs">2-3μm</text><circle cx="389.5" cy="294.3" r="2.7" fill="url(#gn)"/><text x="396.9" y="296.1" font-size="5.2" font-weight="bold" fill="#4444a2" textLength="14.2" lengthAdjust="spacingAndGlyphs">3-5μm</text><circle cx="418" cy="294.3" r="2.8" fill="url(#go)"/><text x="424.1" y="296.1" font-size="5.2" font-weight="bold" fill="#f8902a" textLength="19" lengthAdjust="spacingAndGlyphs">5-10μm</text><clipPath id="cp9"><rect x="26.9" y="417.6" width="125.4" height="102"/></clipPath><g clip-path="url(#cp9)"><circle cx="65.78" cy="443.65" r="1.15" fill="#1db3df"/><circle cx="68.96" cy="448.48" r="1.15" fill="#1db3df"/><circle cx="73.1" cy="464.66" r="1.15" fill="#1db3df"/><circle cx="73.1" cy="469.76" r="1.15" fill="#1db3df"/><circle cx="52.65" cy="501.28" r="1.15" fill="#1db3df"/><circle cx="104.48" cy="441.99" r="1.15" fill="#1db3df"/><circle cx="115.54" cy="469.07" r="1.15" fill="#1db3df"/><circle cx="138.07" cy="493.54" r="1.15" fill="#1db3df"/><circle cx="89.69" cy="502.66" r="1.15" fill="#1db3df"/><circle cx="45.73" cy="435.63" r="2.1" fill="url(#gg)"/><circle cx="63.98" cy="432.86" r="2.1" fill="url(#gg)"/><circle cx="63.43" cy="438.39" r="2.1" fill="url(#gg)"/><circle cx="62.6" cy="443.37" r="2.1" fill="url(#gg)"/><circle cx="72.69" cy="442.54" r="2.1" fill="url(#gg)"/><circle cx="82.37" cy="447.79" r="2.1" fill="url(#gg)"/><circle cx="44.08" cy="456.78" r="2.1" fill="url(#gg)"/><circle cx="49.88" cy="467.69" r="2.1" fill="url(#gg)"/><circle cx="79.6" cy="468.66" r="2.1" fill="url(#gg)"/><circle cx="42.28" cy="476.68" r="2.1" fill="url(#gg)"/><circle cx="46.01" cy="477.37" r="2.1" fill="url(#gg)"/><circle cx="58.87" cy="499.07" r="2.1" fill="url(#gg)"/><circle cx="71.72" cy="499.48" r="2.1" fill="url(#gg)"/><circle cx="97.98" cy="454.7" r="2.1" fill="url(#gg)"/><circle cx="119.69" cy="452.22" r="2.1" fill="url(#gg)"/><circle cx="124.25" cy="463.69" r="2.1" fill="url(#gg)"/><circle cx="129.09" cy="442.54" r="2.1" fill="url(#gg)"/><circle cx="93.84" cy="470.04" r="2.1" fill="url(#gg)"/><circle cx="102.13" cy="470.04" r="2.1" fill="url(#gg)"/><circle cx="94.25" cy="473.63" r="2.1" fill="url(#gg)"/><circle cx="91.49" cy="480.82" r="2.1" fill="url(#gg)"/><circle cx="94.81" cy="483.31" r="2.1" fill="url(#gg)"/><circle cx="136" cy="479.72" r="2.1" fill="url(#gg)"/><circle cx="116.65" cy="495.34" r="2.1" fill="url(#gg)"/><circle cx="92.46" cy="499.07" r="2.1" fill="url(#gg)"/><circle cx="106.69" cy="509.16" r="2.1" fill="url(#gg)"/><circle cx="58.17" cy="433.69" r="2.95" fill="url(#gn)"/><circle cx="53.75" cy="451.94" r="2.95" fill="url(#gn)"/><circle cx="57.07" cy="459.96" r="2.95" fill="url(#gn)"/><circle cx="68.96" cy="458.85" r="2.95" fill="url(#gn)"/><circle cx="88.31" cy="445.72" r="2.95" fill="url(#gn)"/><circle cx="55.69" cy="469.49" r="2.95" fill="url(#gn)"/><circle cx="80.57" cy="473.22" r="2.95" fill="url(#gn)"/><circle cx="67.16" cy="474.6" r="2.95" fill="url(#gn)"/><circle cx="71.31" cy="475.57" r="2.95" fill="url(#gn)"/><circle cx="68.96" cy="479.16" r="2.95" fill="url(#gn)"/><circle cx="47.81" cy="480.82" r="2.95" fill="url(#gn)"/><circle cx="44.35" cy="487.73" r="2.95" fill="url(#gn)"/><circle cx="49.88" cy="486.08" r="2.95" fill="url(#gn)"/><circle cx="53.34" cy="487.73" r="2.95" fill="url(#gn)"/><circle cx="57.07" cy="491.6" r="2.95" fill="url(#gn)"/><circle cx="59.83" cy="486.08" r="2.95" fill="url(#gn)"/><circle cx="50.99" cy="494.65" r="2.95" fill="url(#gn)"/><circle cx="71.31" cy="494.65" r="2.95" fill="url(#gn)"/><circle cx="87.89" cy="497.69" r="2.95" fill="url(#gn)"/><circle cx="126.6" cy="442.26" r="2.95" fill="url(#gn)"/><circle cx="118.3" cy="450.83" r="2.95" fill="url(#gn)"/><circle cx="132.96" cy="451.94" r="2.95" fill="url(#gn)"/><circle cx="93.15" cy="457.75" r="2.95" fill="url(#gn)"/><circle cx="97.98" cy="457.75" r="2.95" fill="url(#gn)"/><circle cx="99.78" cy="463" r="2.95" fill="url(#gn)"/><circle cx="130.75" cy="463.69" r="2.95" fill="url(#gn)"/><circle cx="137.1" cy="465.07" r="2.95" fill="url(#gn)"/><circle cx="112.22" cy="471.15" r="2.95" fill="url(#gn)"/><circle cx="97.57" cy="471.84" r="2.95" fill="url(#gn)"/><circle cx="98.95" cy="476.4" r="2.95" fill="url(#gn)"/><circle cx="113.6" cy="478.33" r="2.95" fill="url(#gn)"/><circle cx="111.39" cy="478.33" r="2.95" fill="url(#gn)"/><circle cx="94.25" cy="492.99" r="2.95" fill="url(#gn)"/><circle cx="121.48" cy="500.45" r="2.95" fill="url(#gn)"/><circle cx="106.97" cy="503.63" r="2.95" fill="url(#gn)"/><circle cx="127.98" cy="491.19" r="2.95" fill="url(#gn)"/><circle cx="129.09" cy="503.63" r="2.95" fill="url(#gn)"/><circle cx="133.51" cy="505.98" r="2.95" fill="url(#gn)"/><circle cx="78.91" cy="458.85" r="3.7" fill="url(#go)"/><circle cx="84.16" cy="468.11" r="3.7" fill="url(#go)"/><circle cx="67.57" cy="488.43" r="3.7" fill="url(#go)"/><circle cx="74.49" cy="493.54" r="3.7" fill="url(#go)"/><circle cx="112.78" cy="455.81" r="3.7" fill="url(#go)"/><circle cx="106.97" cy="464.66" r="3.7" fill="url(#go)"/><circle cx="112.78" cy="466.04" r="3.7" fill="url(#go)"/><circle cx="106.97" cy="479.72" r="3.7" fill="url(#go)"/><circle cx="128.4" cy="491.88" r="3.7" fill="url(#go)"/><circle cx="133.51" cy="493.54" r="3.7" fill="url(#go)"/><circle cx="130.47" cy="497.69" r="3.7" fill="url(#go)"/><circle cx="114.57" cy="512.89" r="3.7" fill="url(#go)"/></g><rect x="26.9" y="417.6" width="125.4" height="102" fill="none" stroke="#333" stroke-width="1.15"/><text x="26.9" y="526.7" font-size="5.3" font-weight="bold" text-anchor="middle" fill="#333">0</text><text x="47.8" y="526.7" font-size="5.3" font-weight="bold" text-anchor="middle" fill="#333">1</text><text x="68.7" y="526.7" font-size="5.3" font-weight="bold" text-anchor="middle" fill="#333">2</text><text x="89.6" y="526.7" font-size="5.3" font-weight="bold" text-anchor="middle" fill="#333">3</text><text x="110.5" y="526.7" font-size="5.3" font-weight="bold" text-anchor="middle" fill="#333">4</text><text x="131.4" y="526.7" font-size="5.3" font-weight="bold" text-anchor="middle" fill="#333">5</text><text x="152.3" y="526.7" font-size="5.3" font-weight="bold" text-anchor="middle" fill="#333">6</text><text x="24.7" y="521.5" font-size="5.3" font-weight="bold" text-anchor="end" fill="#333">0</text><text x="24.7" y="504.5" font-size="5.3" font-weight="bold" text-anchor="end" fill="#333">1</text><text x="24.7" y="487.5" font-size="5.3" font-weight="bold" text-anchor="end" fill="#333">2</text><text x="24.7" y="470.5" font-size="5.3" font-weight="bold" text-anchor="end" fill="#333">3</text><text x="24.7" y="453.5" font-size="5.3" font-weight="bold" text-anchor="end" fill="#333">4</text><text x="24.7" y="436.5" font-size="5.3" font-weight="bold" text-anchor="end" fill="#333">5</text><text x="24.7" y="419.5" font-size="5.3" font-weight="bold" text-anchor="end" fill="#333">6</text><path d="M26.9 519.6v-2 M47.8 519.6v-2 M68.7 519.6v-2 M89.6 519.6v-2 M110.5 519.6v-2 M131.4 519.6v-2 M152.3 519.6v-2 M26.9 519.6h2 M26.9 502.6h2 M26.9 485.6h2 M26.9 468.6h2 M26.9 451.6h2 M26.9 434.6h2 M26.9 417.6h2" stroke="#2a2a2a" stroke-width="1" fill="none"/><text x="87.8" y="535" font-size="7" font-weight="bold" text-anchor="middle" fill="#111" textLength="16.5" lengthAdjust="spacingAndGlyphs">X/mm</text><text transform="translate(18.3 468.6) rotate(-90)" font-size="7" font-weight="bold" text-anchor="middle" fill="#111" textLength="16" lengthAdjust="spacingAndGlyphs">Y/mm</text><text x="28.4" y="424.2" font-size="5.6" font-weight="bold" fill="#111">W4</text><circle cx="40.1" cy="422.2" r="1.1" fill="#1db3df"/><text x="46.7" y="424" font-size="5.2" font-weight="bold" fill="#2cbbea" textLength="14" lengthAdjust="spacingAndGlyphs">1-2μm</text><circle cx="67.9" cy="422.2" r="2.1" fill="url(#gg)"/><text x="74.9" y="424" font-size="5.2" font-weight="bold" fill="#20aa80" textLength="14" lengthAdjust="spacingAndGlyphs">2-3μm</text><circle cx="96.8" cy="422.2" r="2.7" fill="url(#gn)"/><text x="104.2" y="424" font-size="5.2" font-weight="bold" fill="#4444a2" textLength="14.2" lengthAdjust="spacingAndGlyphs">3-5μm</text><circle cx="125.3" cy="422.2" r="2.8" fill="url(#go)"/><text x="131.4" y="424" font-size="5.2" font-weight="bold" fill="#f8902a" textLength="19" lengthAdjust="spacingAndGlyphs">5-10μm</text><clipPath id="cp10"><rect x="173.9" y="418.4" width="126.4" height="101.2"/></clipPath><g clip-path="url(#cp10)"><circle cx="216.51" cy="453.32" r="1.15" fill="#1db3df"/><circle cx="194.81" cy="477.78" r="1.15" fill="#1db3df"/><circle cx="198.26" cy="487.46" r="1.15" fill="#1db3df"/><circle cx="258.39" cy="456.78" r="1.15" fill="#1db3df"/><circle cx="216.51" cy="432.86" r="2.1" fill="url(#gg)"/><circle cx="199.65" cy="445.72" r="2.1" fill="url(#gg)"/><circle cx="215.96" cy="445.3" r="2.1" fill="url(#gg)"/><circle cx="225.22" cy="445.03" r="2.1" fill="url(#gg)"/><circle cx="224.53" cy="450.56" r="2.1" fill="url(#gg)"/><circle cx="193.43" cy="461.62" r="2.1" fill="url(#gg)"/><circle cx="205.87" cy="464.38" r="2.1" fill="url(#gg)"/><circle cx="211.4" cy="461.62" r="2.1" fill="url(#gg)"/><circle cx="232.82" cy="466.04" r="2.1" fill="url(#gg)"/><circle cx="200.75" cy="467.69" r="2.1" fill="url(#gg)"/><circle cx="212.09" cy="476.68" r="2.1" fill="url(#gg)"/><circle cx="218.31" cy="482.48" r="2.1" fill="url(#gg)"/><circle cx="209.6" cy="487.04" r="2.1" fill="url(#gg)"/><circle cx="222.87" cy="489.39" r="2.1" fill="url(#gg)"/><circle cx="189.69" cy="493.26" r="2.1" fill="url(#gg)"/><circle cx="241.25" cy="442.26" r="2.1" fill="url(#gg)"/><circle cx="244.29" cy="449.17" r="2.1" fill="url(#gg)"/><circle cx="241.25" cy="452.63" r="2.1" fill="url(#gg)"/><circle cx="273.6" cy="452.22" r="2.1" fill="url(#gg)"/><circle cx="281.89" cy="449.87" r="2.1" fill="url(#gg)"/><circle cx="245.4" cy="460.51" r="2.1" fill="url(#gg)"/><circle cx="244.98" cy="465.07" r="2.1" fill="url(#gg)"/><circle cx="257.43" cy="464.38" r="2.1" fill="url(#gg)"/><circle cx="268.07" cy="466.45" r="2.1" fill="url(#gg)"/><circle cx="273.6" cy="464.1" r="2.1" fill="url(#gg)"/><circle cx="260.88" cy="469.49" r="2.1" fill="url(#gg)"/><circle cx="251.48" cy="494.92" r="2.1" fill="url(#gg)"/><circle cx="186.93" cy="432.31" r="2.95" fill="url(#gn)"/><circle cx="212.78" cy="432.86" r="2.95" fill="url(#gn)"/><circle cx="190.25" cy="444.75" r="2.95" fill="url(#gn)"/><circle cx="194.12" cy="446.13" r="2.95" fill="url(#gn)"/><circle cx="196.6" cy="451.94" r="2.95" fill="url(#gn)"/><circle cx="210.7" cy="450.28" r="2.95" fill="url(#gn)"/><circle cx="225.91" cy="441.99" r="2.95" fill="url(#gn)"/><circle cx="228.95" cy="450.28" r="2.95" fill="url(#gn)"/><circle cx="228.95" cy="452.63" r="2.95" fill="url(#gn)"/><circle cx="220.38" cy="458.16" r="2.95" fill="url(#gn)"/><circle cx="234.89" cy="456.36" r="2.95" fill="url(#gn)"/><circle cx="189.28" cy="462.72" r="2.95" fill="url(#gn)"/><circle cx="210.43" cy="464.66" r="2.95" fill="url(#gn)"/><circle cx="188.31" cy="472.25" r="2.95" fill="url(#gn)"/><circle cx="192.73" cy="473.63" r="2.95" fill="url(#gn)"/><circle cx="188.31" cy="476.95" r="2.95" fill="url(#gn)"/><circle cx="193.84" cy="481.93" r="2.95" fill="url(#gn)"/><circle cx="209.05" cy="471.42" r="2.95" fill="url(#gn)"/><circle cx="222.45" cy="481.93" r="2.95" fill="url(#gn)"/><circle cx="198.95" cy="489.81" r="2.95" fill="url(#gn)"/><circle cx="202.41" cy="491.19" r="2.95" fill="url(#gn)"/><circle cx="212.78" cy="489.81" r="2.95" fill="url(#gn)"/><circle cx="222.04" cy="493.95" r="2.95" fill="url(#gn)"/><circle cx="235.59" cy="487.04" r="2.95" fill="url(#gn)"/><circle cx="259.78" cy="446.69" r="2.95" fill="url(#gn)"/><circle cx="272.22" cy="449.45" r="2.95" fill="url(#gn)"/><circle cx="277.19" cy="463.27" r="2.95" fill="url(#gn)"/><circle cx="248.16" cy="469.07" r="2.95" fill="url(#gn)"/><circle cx="282.31" cy="470.87" r="2.95" fill="url(#gn)"/><circle cx="245.4" cy="481.51" r="2.95" fill="url(#gn)"/><circle cx="241.81" cy="484.28" r="2.95" fill="url(#gn)"/><circle cx="256.04" cy="482.9" r="2.95" fill="url(#gn)"/><circle cx="264.75" cy="485.66" r="2.95" fill="url(#gn)"/><circle cx="253.69" cy="490.22" r="2.95" fill="url(#gn)"/><circle cx="242.63" cy="492.57" r="2.95" fill="url(#gn)"/><circle cx="242.22" cy="495.34" r="2.95" fill="url(#gn)"/><circle cx="280.51" cy="497.41" r="2.95" fill="url(#gn)"/><circle cx="279.96" cy="504.6" r="2.95" fill="url(#gn)"/><circle cx="207.25" cy="453.6" r="3.7" fill="url(#go)"/><circle cx="193.01" cy="468.11" r="3.7" fill="url(#go)"/><circle cx="200.34" cy="475.29" r="3.7" fill="url(#go)"/><circle cx="218.72" cy="474.19" r="3.7" fill="url(#go)"/><circle cx="207.25" cy="482.21" r="3.7" fill="url(#go)"/><circle cx="225.63" cy="492.16" r="3.7" fill="url(#go)"/><circle cx="252.31" cy="453.6" r="3.7" fill="url(#go)"/><circle cx="274.98" cy="492.99" r="3.7" fill="url(#go)"/><circle cx="264.34" cy="496.72" r="3.7" fill="url(#go)"/><circle cx="272.22" cy="508.19" r="3.7" fill="url(#go)"/></g><rect x="173.9" y="418.4" width="126.4" height="101.2" fill="none" stroke="#333" stroke-width="1.15"/><text x="173.9" y="526.7" font-size="5.3" font-weight="bold" text-anchor="middle" fill="#333">0</text><text x="194.97" y="526.7" font-size="5.3" font-weight="bold" text-anchor="middle" fill="#333">1</text><text x="216.03" y="526.7" font-size="5.3" font-weight="bold" text-anchor="middle" fill="#333">2</text><text x="237.1" y="526.7" font-size="5.3" font-weight="bold" text-anchor="middle" fill="#333">3</text><text x="258.17" y="526.7" font-size="5.3" font-weight="bold" text-anchor="middle" fill="#333">4</text><text x="279.23" y="526.7" font-size="5.3" font-weight="bold" text-anchor="middle" fill="#333">5</text><text x="300.3" y="526.7" font-size="5.3" font-weight="bold" text-anchor="middle" fill="#333">6</text><text x="171.7" y="521.5" font-size="5.3" font-weight="bold" text-anchor="end" fill="#333">0</text><text x="171.7" y="505.93" font-size="5.3" font-weight="bold" text-anchor="end" fill="#333">1</text><text x="171.7" y="490.36" font-size="5.3" font-weight="bold" text-anchor="end" fill="#333">2</text><text x="171.7" y="474.79" font-size="5.3" font-weight="bold" text-anchor="end" fill="#333">3</text><text x="171.7" y="459.22" font-size="5.3" font-weight="bold" text-anchor="end" fill="#333">4</text><text x="171.7" y="443.65" font-size="5.3" font-weight="bold" text-anchor="end" fill="#333">5</text><text x="171.7" y="428.08" font-size="5.3" font-weight="bold" text-anchor="end" fill="#333">6</text><path d="M173.9 519.6v-2 M194.97 519.6v-2 M216.03 519.6v-2 M237.1 519.6v-2 M258.17 519.6v-2 M279.23 519.6v-2 M300.3 519.6v-2 M173.9 519.6h2 M173.9 504.03h2 M173.9 488.46h2 M173.9 472.89h2 M173.9 457.32h2 M173.9 441.75h2 M173.9 426.18h2" stroke="#2a2a2a" stroke-width="1" fill="none"/><text x="235.3" y="535" font-size="7" font-weight="bold" text-anchor="middle" fill="#111" textLength="16.5" lengthAdjust="spacingAndGlyphs">X/mm</text><text transform="translate(165.3 469) rotate(-90)" font-size="7" font-weight="bold" text-anchor="middle" fill="#111" textLength="16" lengthAdjust="spacingAndGlyphs">Y/mm</text><text x="175.4" y="425" font-size="5.6" font-weight="bold" fill="#111">W5</text><circle cx="187.1" cy="423" r="1.1" fill="#1db3df"/><text x="193.7" y="424.8" font-size="5.2" font-weight="bold" fill="#2cbbea" textLength="14" lengthAdjust="spacingAndGlyphs">1-2μm</text><circle cx="214.9" cy="423" r="2.1" fill="url(#gg)"/><text x="221.9" y="424.8" font-size="5.2" font-weight="bold" fill="#20aa80" textLength="14" lengthAdjust="spacingAndGlyphs">2-3μm</text><circle cx="243.8" cy="423" r="2.7" fill="url(#gn)"/><text x="251.2" y="424.8" font-size="5.2" font-weight="bold" fill="#4444a2" textLength="14.2" lengthAdjust="spacingAndGlyphs">3-5μm</text><circle cx="272.3" cy="423" r="2.8" fill="url(#go)"/><text x="278.4" y="424.8" font-size="5.2" font-weight="bold" fill="#f8902a" textLength="19" lengthAdjust="spacingAndGlyphs">5-10μm</text><clipPath id="cp11"><rect x="318.9" y="418.3" width="126.3" height="101.3"/></clipPath><g clip-path="url(#cp11)"><circle cx="343.54" cy="448.52" r="1.15" fill="#1db3df"/><circle cx="358.47" cy="478.78" r="1.15" fill="#1db3df"/><circle cx="394.82" cy="469.11" r="1.15" fill="#1db3df"/><circle cx="396.9" cy="488.04" r="1.15" fill="#1db3df"/><circle cx="394.55" cy="492.88" r="1.15" fill="#1db3df"/><circle cx="347.69" cy="433.59" r="2.1" fill="url(#gg)"/><circle cx="359.16" cy="451.56" r="2.1" fill="url(#gg)"/><circle cx="332.21" cy="456.4" r="2.1" fill="url(#gg)"/><circle cx="331.51" cy="467.04" r="2.1" fill="url(#gg)"/><circle cx="337.04" cy="465.66" r="2.1" fill="url(#gg)"/><circle cx="349.07" cy="470.49" r="2.1" fill="url(#gg)"/><circle cx="360.54" cy="472.15" r="2.1" fill="url(#gg)"/><circle cx="364.69" cy="477.95" r="2.1" fill="url(#gg)"/><circle cx="343.54" cy="479.75" r="2.1" fill="url(#gg)"/><circle cx="346.03" cy="481.13" r="2.1" fill="url(#gg)"/><circle cx="374.78" cy="483.9" r="2.1" fill="url(#gg)"/><circle cx="421.09" cy="455.98" r="2.1" fill="url(#gg)"/><circle cx="402.43" cy="461.92" r="2.1" fill="url(#gg)"/><circle cx="405.6" cy="463.72" r="2.1" fill="url(#gg)"/><circle cx="417.22" cy="463.72" r="2.1" fill="url(#gg)"/><circle cx="403.39" cy="473.53" r="2.1" fill="url(#gg)"/><circle cx="417.22" cy="472.84" r="2.1" fill="url(#gg)"/><circle cx="431.87" cy="479.75" r="2.1" fill="url(#gg)"/><circle cx="389.98" cy="482.51" r="2.1" fill="url(#gg)"/><circle cx="393.72" cy="482.93" r="2.1" fill="url(#gg)"/><circle cx="384.04" cy="495.37" r="2.1" fill="url(#gg)"/><circle cx="396.9" cy="497.72" r="2.1" fill="url(#gg)"/><circle cx="418.05" cy="501.17" r="2.1" fill="url(#gg)"/><circle cx="428" cy="498.41" r="2.1" fill="url(#gg)"/><circle cx="407.95" cy="504.63" r="2.1" fill="url(#gg)"/><circle cx="410.03" cy="503.25" r="2.1" fill="url(#gg)"/><circle cx="409.75" cy="509.19" r="2.1" fill="url(#gg)"/><circle cx="330.82" cy="433.86" r="2.95" fill="url(#gn)"/><circle cx="334.28" cy="440.22" r="2.95" fill="url(#gn)"/><circle cx="350.87" cy="440.78" r="2.95" fill="url(#gn)"/><circle cx="341.6" cy="446.03" r="2.95" fill="url(#gn)"/><circle cx="343.95" cy="452.66" r="2.95" fill="url(#gn)"/><circle cx="350.17" cy="454.05" r="2.95" fill="url(#gn)"/><circle cx="368.84" cy="458.47" r="2.95" fill="url(#gn)"/><circle cx="342.16" cy="461.92" r="2.95" fill="url(#gn)"/><circle cx="346.72" cy="464.69" r="2.95" fill="url(#gn)"/><circle cx="340.22" cy="470.07" r="2.95" fill="url(#gn)"/><circle cx="356.4" cy="468.69" r="2.95" fill="url(#gn)"/><circle cx="360.13" cy="475.6" r="2.95" fill="url(#gn)"/><circle cx="374.78" cy="475.19" r="2.95" fill="url(#gn)"/><circle cx="337.73" cy="496.34" r="2.95" fill="url(#gn)"/><circle cx="396.9" cy="450.87" r="2.95" fill="url(#gn)"/><circle cx="405.6" cy="453.22" r="2.95" fill="url(#gn)"/><circle cx="423.16" cy="450.17" r="2.95" fill="url(#gn)"/><circle cx="383.07" cy="460.13" r="2.95" fill="url(#gn)"/><circle cx="388.6" cy="460.54" r="2.95" fill="url(#gn)"/><circle cx="385.84" cy="462.89" r="2.95" fill="url(#gn)"/><circle cx="424.13" cy="473.53" r="2.95" fill="url(#gn)"/><circle cx="393.72" cy="479.75" r="2.95" fill="url(#gn)"/><circle cx="414.17" cy="489.43" r="2.95" fill="url(#gn)"/><circle cx="428.27" cy="495.65" r="2.95" fill="url(#gn)"/><circle cx="397.59" cy="500.9" r="2.95" fill="url(#gn)"/><circle cx="402.43" cy="504.63" r="2.95" fill="url(#gn)"/><circle cx="403.81" cy="508.09" r="2.95" fill="url(#gn)"/><circle cx="370.91" cy="465.38" r="3.7" fill="url(#go)"/><circle cx="354.05" cy="480.16" r="3.7" fill="url(#go)"/><circle cx="355.43" cy="484.86" r="3.7" fill="url(#go)"/></g><rect x="318.9" y="418.3" width="126.3" height="101.3" fill="none" stroke="#333" stroke-width="1.15"/><text x="318.9" y="526.7" font-size="5.3" font-weight="bold" text-anchor="middle" fill="#333">0</text><text x="341.86" y="526.7" font-size="5.3" font-weight="bold" text-anchor="middle" fill="#333">1</text><text x="364.83" y="526.7" font-size="5.3" font-weight="bold" text-anchor="middle" fill="#333">2</text><text x="387.79" y="526.7" font-size="5.3" font-weight="bold" text-anchor="middle" fill="#333">3</text><text x="410.75" y="526.7" font-size="5.3" font-weight="bold" text-anchor="middle" fill="#333">4</text><text x="433.72" y="526.7" font-size="5.3" font-weight="bold" text-anchor="middle" fill="#333">5</text><text x="316.7" y="521.5" font-size="5.3" font-weight="bold" text-anchor="end" fill="#333">0</text><text x="316.7" y="505.92" font-size="5.3" font-weight="bold" text-anchor="end" fill="#333">1</text><text x="316.7" y="490.33" font-size="5.3" font-weight="bold" text-anchor="end" fill="#333">2</text><text x="316.7" y="474.75" font-size="5.3" font-weight="bold" text-anchor="end" fill="#333">3</text><text x="316.7" y="459.16" font-size="5.3" font-weight="bold" text-anchor="end" fill="#333">4</text><text x="316.7" y="443.58" font-size="5.3" font-weight="bold" text-anchor="end" fill="#333">5</text><text x="316.7" y="427.99" font-size="5.3" font-weight="bold" text-anchor="end" fill="#333">6</text><path d="M318.9 519.6v-2 M341.86 519.6v-2 M364.83 519.6v-2 M387.79 519.6v-2 M410.75 519.6v-2 M433.72 519.6v-2 M318.9 519.6h2 M318.9 504.02h2 M318.9 488.43h2 M318.9 472.85h2 M318.9 457.26h2 M318.9 441.68h2 M318.9 426.09h2" stroke="#2a2a2a" stroke-width="1" fill="none"/><text x="380.25" y="535" font-size="7" font-weight="bold" text-anchor="middle" fill="#111" textLength="16.5" lengthAdjust="spacingAndGlyphs">X/mm</text><text transform="translate(310.3 468.95) rotate(-90)" font-size="7" font-weight="bold" text-anchor="middle" fill="#111" textLength="16" lengthAdjust="spacingAndGlyphs">Y/mm</text><text x="320.2" y="423.7" font-size="5.6" font-weight="bold" fill="#111" textLength="18" lengthAdjust="spacingAndGlyphs">Normal</text><circle cx="332.1" cy="426" r="1.1" fill="#1db3df"/><text x="338.7" y="427.8" font-size="5.2" font-weight="bold" fill="#2cbbea" textLength="14" lengthAdjust="spacingAndGlyphs">1-2μm</text><circle cx="359.9" cy="426" r="2.1" fill="url(#gg)"/><text x="366.9" y="427.8" font-size="5.2" font-weight="bold" fill="#20aa80" textLength="14" lengthAdjust="spacingAndGlyphs">2-3μm</text><circle cx="388.8" cy="426" r="2.7" fill="url(#gn)"/><text x="396.2" y="427.8" font-size="5.2" font-weight="bold" fill="#4444a2" textLength="14.2" lengthAdjust="spacingAndGlyphs">3-5μm</text><circle cx="417.3" cy="426" r="2.8" fill="url(#go)"/><text x="423.4" y="427.8" font-size="5.2" font-weight="bold" fill="#f8902a" textLength="19" lengthAdjust="spacingAndGlyphs">5-10μm</text></svg></body></html>
